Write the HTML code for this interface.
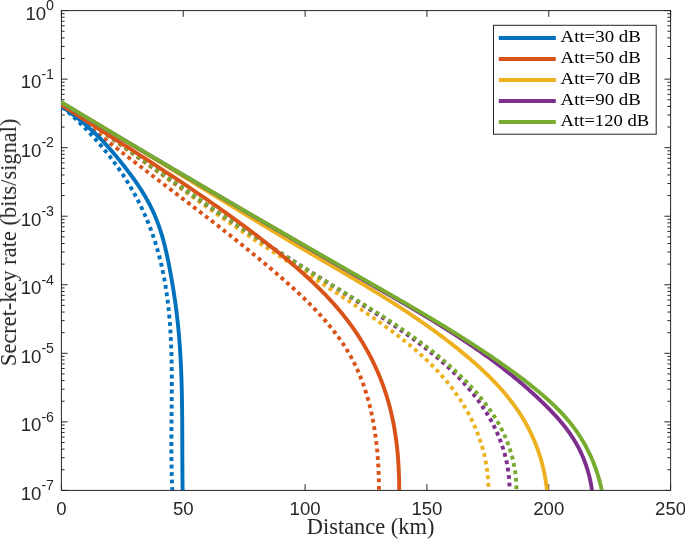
<!DOCTYPE html><html><head><meta charset="utf-8"><style>html,body{margin:0;padding:0;background:#fff;}svg{display:block;} text{will-change:transform;}</style></head><body>
<svg width="685" height="539" viewBox="0 0 685 539">
<rect width="685" height="539" fill="#fff"/>
<defs><clipPath id="c"><rect x="61.00" y="10.60" width="609.60" height="479.40"/></clipPath></defs>
<g stroke="#262626" stroke-width="1" fill="none">
<rect x="61.40" y="10.60" width="609.20" height="479.80"/>
<path d="M61.40,10.60h6.2M670.60,10.60h-6.2M61.40,79.14h6.2M670.60,79.14h-6.2M61.40,147.69h6.2M670.60,147.69h-6.2M61.40,216.23h6.2M670.60,216.23h-6.2M61.40,284.77h6.2M670.60,284.77h-6.2M61.40,353.31h6.2M670.60,353.31h-6.2M61.40,421.86h6.2M670.60,421.86h-6.2M61.40,490.40h6.2M670.60,490.40h-6.2M61.40,58.51h3.2M670.60,58.51h-3.2M61.40,46.44h3.2M670.60,46.44h-3.2M61.40,37.88h3.2M670.60,37.88h-3.2M61.40,31.23h3.2M670.60,31.23h-3.2M61.40,25.81h3.2M670.60,25.81h-3.2M61.40,21.22h3.2M670.60,21.22h-3.2M61.40,17.24h3.2M670.60,17.24h-3.2M61.40,13.74h3.2M670.60,13.74h-3.2M61.40,127.05h3.2M670.60,127.05h-3.2M61.40,114.98h3.2M670.60,114.98h-3.2M61.40,106.42h3.2M670.60,106.42h-3.2M61.40,99.78h3.2M670.60,99.78h-3.2M61.40,94.35h3.2M670.60,94.35h-3.2M61.40,89.76h3.2M670.60,89.76h-3.2M61.40,85.79h3.2M670.60,85.79h-3.2M61.40,82.28h3.2M670.60,82.28h-3.2M61.40,195.60h3.2M670.60,195.60h-3.2M61.40,183.53h3.2M670.60,183.53h-3.2M61.40,174.96h3.2M670.60,174.96h-3.2M61.40,168.32h3.2M670.60,168.32h-3.2M61.40,162.89h3.2M670.60,162.89h-3.2M61.40,158.30h3.2M670.60,158.30h-3.2M61.40,154.33h3.2M670.60,154.33h-3.2M61.40,150.82h3.2M670.60,150.82h-3.2M61.40,264.14h3.2M670.60,264.14h-3.2M61.40,252.07h3.2M670.60,252.07h-3.2M61.40,243.50h3.2M670.60,243.50h-3.2M61.40,236.86h3.2M670.60,236.86h-3.2M61.40,231.43h3.2M670.60,231.43h-3.2M61.40,226.85h3.2M670.60,226.85h-3.2M61.40,222.87h3.2M670.60,222.87h-3.2M61.40,219.36h3.2M670.60,219.36h-3.2M61.40,332.68h3.2M670.60,332.68h-3.2M61.40,320.61h3.2M670.60,320.61h-3.2M61.40,312.05h3.2M670.60,312.05h-3.2M61.40,305.40h3.2M670.60,305.40h-3.2M61.40,299.98h3.2M670.60,299.98h-3.2M61.40,295.39h3.2M670.60,295.39h-3.2M61.40,291.41h3.2M670.60,291.41h-3.2M61.40,287.91h3.2M670.60,287.91h-3.2M61.40,401.22h3.2M670.60,401.22h-3.2M61.40,389.15h3.2M670.60,389.15h-3.2M61.40,380.59h3.2M670.60,380.59h-3.2M61.40,373.95h3.2M670.60,373.95h-3.2M61.40,368.52h3.2M670.60,368.52h-3.2M61.40,363.93h3.2M670.60,363.93h-3.2M61.40,359.96h3.2M670.60,359.96h-3.2M61.40,356.45h3.2M670.60,356.45h-3.2M61.40,469.77h3.2M670.60,469.77h-3.2M61.40,457.70h3.2M670.60,457.70h-3.2M61.40,449.13h3.2M670.60,449.13h-3.2M61.40,442.49h3.2M670.60,442.49h-3.2M61.40,437.06h3.2M670.60,437.06h-3.2M61.40,432.47h3.2M670.60,432.47h-3.2M61.40,428.50h3.2M670.60,428.50h-3.2M61.40,424.99h3.2M670.60,424.99h-3.2M61.40,490.40v-6.2M61.40,10.60v6.2M183.24,490.40v-6.2M183.24,10.60v6.2M305.08,490.40v-6.2M305.08,10.60v6.2M426.92,490.40v-6.2M426.92,10.60v6.2M548.76,490.40v-6.2M548.76,10.60v6.2M670.60,490.40v-6.2M670.60,10.60v6.2"/>
</g>
<g clip-path="url(#c)" fill="none" stroke-width="3.90">
<path d="M61.04,105.92 L61.81,106.57 L62.60,107.24 L63.38,107.91 L64.16,108.58 L64.94,109.26 L65.72,109.94 L66.50,110.62 L67.27,111.30 L68.04,111.99 L68.82,112.68 L69.59,113.37 L70.35,114.06 L71.12,114.76 L71.89,115.46 L72.65,116.16 L73.41,116.86 L74.17,117.57 L74.93,118.28 L75.68,118.99 L76.43,119.70 L77.19,120.42 L77.94,121.14 L78.68,121.86 L79.43,122.58 L80.17,123.31 L80.91,124.04 L81.65,124.77 L82.39,125.50 L83.13,126.24 L83.86,126.97 L84.59,127.71 L85.32,128.46 L86.05,129.20 L86.77,129.95 L87.50,130.70 L88.22,131.46 L88.94,132.21 L89.65,132.97 L90.37,133.73 L91.08,134.49 L91.79,135.26 L92.49,136.02 L93.20,136.79 L93.90,137.56 L94.60,138.34 L95.30,139.12 L95.99,139.89 L96.69,140.68 L97.38,141.46 L98.06,142.25 L98.75,143.03 L99.43,143.83 L100.11,144.62 L100.79,145.41 L101.47,146.21 L102.14,147.01 L102.81,147.81 L103.48,148.62 L104.14,149.43 L104.81,150.23 L105.47,151.05 L106.12,151.86 L106.78,152.68 L107.43,153.49 L108.08,154.31 L108.73,155.14 L109.37,155.96 L110.01,156.79 L110.65,157.62 L111.29,158.45 L111.92,159.28 L112.55,160.12 L113.18,160.96 L113.80,161.80 L114.42,162.64 L115.04,163.49 L115.66,164.33 L116.27,165.18 L116.88,166.03 L117.49,166.89 L118.09,167.74 L118.69,168.60 L119.29,169.46 L119.88,170.32 L120.47,171.19 L121.06,172.06 L121.65,172.92 L122.23,173.79 L122.81,174.67 L123.39,175.54 L123.96,176.42 L124.53,177.30 L125.09,178.18 L125.66,179.06 L126.22,179.95 L126.77,180.84 L127.33,181.72 L127.88,182.62 L128.42,183.51 L128.97,184.40 L129.51,185.30 L130.05,186.20 L130.58,187.10 L131.11,188.00 L131.64,188.91 L132.16,189.82 L132.68,190.72 L133.19,191.64 L133.71,192.55 L134.22,193.46 L134.72,194.38 L135.22,195.30 L135.72,196.22 L136.22,197.14 L136.71,198.06 L137.20,198.99 L137.68,199.91 L138.16,200.84 L138.64,201.77 L139.11,202.71 L139.58,203.64 L140.05,204.58 L140.51,205.51 L140.97,206.45 L141.42,207.39 L141.87,208.34 L142.32,209.28 L142.76,210.23 L143.20,211.17 L143.64,212.12 L144.07,213.07 L144.50,214.03 L144.92,214.98 L145.34,215.94 L145.76,216.89 L146.17,217.85 L146.58,218.81 L146.98,219.77 L147.38,220.74 L147.78,221.70 L148.17,222.67 L148.56,223.63 L148.95,224.60 L149.33,225.57 L149.71,226.54 L150.08,227.52 L150.45,228.49 L150.82,229.46 L151.18,230.44 L151.54,231.42 L151.90,232.40 L152.25,233.38 L152.59,234.36 L152.94,235.34 L153.28,236.32 L153.61,237.31 L153.94,238.29 L154.27,239.28 L154.60,240.27 L154.92,241.26 L155.23,242.24 L155.54,243.24 L155.85,244.23 L156.16,245.22 L156.46,246.21 L156.75,247.21 L157.05,248.20 L157.34,249.20 L157.62,250.20 L157.91,251.19 L158.18,252.19 L158.46,253.19 L158.73,254.19 L159.00,255.20 L159.26,256.20 L159.52,257.20 L159.78,258.21 L160.03,259.21 L160.28,260.22 L160.53,261.22 L160.77,262.23 L161.01,263.24 L161.25,264.25 L161.48,265.26 L161.71,266.27 L161.93,267.28 L162.16,268.30 L162.38,269.31 L162.59,270.33 L162.81,271.34 L163.01,272.36 L163.22,273.37 L163.42,274.39 L163.63,275.41 L163.82,276.43 L164.02,277.45 L164.21,278.47 L164.40,279.49 L164.58,280.51 L164.76,281.53 L164.94,282.56 L165.12,283.58 L165.29,284.60 L165.46,285.63 L165.63,286.66 L165.79,287.68 L165.95,288.71 L166.11,289.74 L166.27,290.77 L166.42,291.79 L166.57,292.82 L166.72,293.85 L166.86,294.89 L167.01,295.92 L167.15,296.95 L167.28,297.98 L167.42,299.01 L167.55,300.05 L167.68,301.08 L167.81,302.12 L167.93,303.15 L168.05,304.19 L168.17,305.23 L168.29,306.26 L168.40,307.30 L168.52,308.34 L168.63,309.38 L168.73,310.42 L168.84,311.46 L168.94,312.50 L169.04,313.54 L169.14,314.58 L169.23,315.62 L169.33,316.66 L169.42,317.70 L169.51,318.75 L169.60,319.79 L169.68,320.83 L169.77,321.88 L169.85,322.92 L169.93,323.97 L170.00,325.01 L170.08,326.06 L170.15,327.10 L170.22,328.15 L170.29,329.20 L170.36,330.24 L170.42,331.29 L170.49,332.34 L170.55,333.39 L170.61,334.43 L170.67,335.48 L170.72,336.53 L170.78,337.58 L170.83,338.63 L170.88,339.68 L170.93,340.73 L170.98,341.78 L171.02,342.83 L171.07,343.88 L171.11,344.93 L171.15,345.98 L171.19,347.04 L171.23,348.09 L171.27,349.14 L171.30,350.19 L171.34,351.24 L171.37,352.30 L171.40,353.35 L171.43,354.40 L171.46,355.46 L171.48,356.51 L171.51,357.56 L171.53,358.62 L171.56,359.67 L171.58,360.72 L171.60,361.78 L171.62,362.83 L171.64,363.89 L171.66,364.94 L171.67,365.99 L171.69,367.05 L171.70,368.10 L171.71,369.16 L171.73,370.21 L171.74,371.27 L171.75,372.32 L171.76,373.38 L171.76,374.43 L171.77,375.49 L171.78,376.54 L171.78,377.60 L171.79,378.65 L171.79,379.71 L171.79,380.76 L171.80,381.82 L171.80,382.87 L171.80,383.93 L171.80,384.98 L171.80,386.04 L171.80,387.09 L171.80,388.15 L171.79,389.20 L171.79,390.25 L171.79,391.31 L171.78,392.36 L171.78,393.42 L171.77,394.47 L171.77,395.53 L171.76,396.58 L171.75,397.63 L171.75,398.69 L171.74,399.74 L171.73,400.79 L171.72,401.85 L171.72,402.90 L171.71,403.95 L171.70,405.00 L171.69,406.06 L171.68,407.11 L171.67,408.16 L171.66,409.21 L171.65,410.26 L171.64,411.32 L171.63,412.37 L171.62,413.42 L171.61,414.47 L171.60,415.52 L171.59,416.57 L171.58,417.62 L171.57,418.67 L171.56,419.72 L171.55,420.77 L171.54,421.81 L171.53,422.86 L171.52,423.91 L171.51,424.96 L171.50,426.01 L171.50,427.05 L171.49,428.10 L171.48,429.15 L171.47,430.19 L171.46,431.24 L171.46,432.28 L171.45,433.33 L171.44,434.37 L171.44,435.42 L171.43,436.46 L171.43,437.50 L171.42,438.55 L171.42,439.59 L171.41,440.63 L171.41,441.67 L171.41,442.71 L171.41,443.75 L171.40,444.79 L171.40,445.83 L171.40,446.87 L171.40,447.91 L171.41,448.95 L171.41,449.98 L171.41,451.02 L171.41,452.06 L171.42,453.09 L171.42,454.13 L171.43,455.16 L171.44,456.20 L171.45,457.23 L171.45,458.27 L171.46,459.30 L171.48,460.33 L171.49,461.36 L171.50,462.39 L171.51,463.42 L171.53,464.45 L171.55,465.48 L171.56,466.51 L171.58,467.54 L171.60,468.57 L171.62,469.59 L171.64,470.62 L171.67,471.64 L171.69,472.67 L171.72,473.69 L171.74,474.71 L171.77,475.74 L171.80,476.76 L171.83,477.78 L171.87,478.80 L171.90,479.82 L171.93,480.84 L171.97,481.86 L172.01,482.87 L172.05,483.89 L172.09,484.91 L172.13,485.92 L172.18,486.93 L172.22,487.95 L172.27,488.96 L172.32,489.97 L172.48,493.40" stroke="#0072BD" stroke-dasharray="3.8 3.7" stroke-dashoffset="-1.85"/>
<path d="M61.42,103.60 L62.31,104.35 L63.32,105.21 L64.33,106.06 L65.34,106.91 L66.35,107.76 L67.36,108.61 L68.37,109.45 L69.39,110.30 L70.40,111.15 L71.41,111.99 L72.43,112.83 L73.44,113.67 L74.46,114.51 L75.48,115.35 L76.49,116.19 L77.51,117.03 L78.53,117.86 L79.55,118.70 L80.57,119.53 L81.58,120.36 L82.61,121.19 L83.63,122.02 L84.65,122.85 L85.67,123.68 L86.69,124.51 L87.71,125.34 L88.74,126.16 L89.76,126.99 L90.78,127.81 L91.81,128.63 L92.83,129.46 L93.86,130.28 L94.89,131.10 L95.91,131.92 L96.94,132.74 L97.97,133.55 L98.99,134.37 L100.02,135.19 L101.05,136.00 L102.08,136.82 L103.11,137.63 L104.14,138.44 L105.17,139.26 L106.20,140.07 L107.23,140.88 L108.26,141.69 L109.29,142.50 L110.33,143.31 L111.36,144.11 L112.39,144.92 L113.42,145.73 L114.46,146.53 L115.49,147.34 L116.52,148.15 L117.56,148.95 L118.59,149.75 L119.63,150.56 L120.66,151.36 L121.70,152.16 L122.73,152.96 L123.77,153.76 L124.81,154.56 L125.84,155.36 L126.88,156.16 L127.92,156.96 L128.95,157.76 L129.99,158.56 L131.03,159.36 L132.07,160.15 L133.10,160.95 L134.14,161.75 L135.18,162.54 L136.22,163.34 L137.26,164.13 L138.30,164.93 L139.34,165.72 L140.38,166.52 L141.42,167.31 L142.45,168.11 L143.49,168.90 L144.53,169.69 L145.57,170.49 L146.61,171.28 L147.65,172.07 L148.69,172.86 L149.74,173.65 L150.78,174.45 L151.82,175.24 L152.86,176.03 L153.90,176.82 L154.94,177.61 L155.98,178.40 L157.02,179.19 L158.06,179.98 L159.10,180.77 L160.14,181.56 L161.18,182.36 L162.22,183.15 L163.27,183.94 L164.31,184.73 L165.35,185.52 L166.39,186.31 L167.43,187.10 L168.47,187.89 L169.51,188.68 L170.55,189.47 L171.59,190.26 L172.63,191.05 L173.68,191.84 L174.72,192.63 L175.76,193.42 L176.80,194.21 L177.84,195.00 L178.88,195.79 L179.92,196.58 L180.96,197.37 L182.00,198.17 L183.04,198.96 L184.08,199.75 L185.12,200.54 L186.16,201.33 L187.20,202.13 L188.24,202.92 L189.28,203.71 L190.31,204.51 L191.35,205.30 L192.39,206.09 L193.43,206.89 L194.47,207.68 L195.51,208.48 L196.54,209.27 L197.58,210.07 L198.62,210.86 L199.66,211.66 L200.69,212.46 L201.73,213.25 L202.77,214.05 L203.80,214.85 L204.84,215.65 L205.88,216.45 L206.91,217.24 L207.95,218.04 L208.98,218.84 L210.02,219.65 L211.05,220.45 L212.08,221.25 L213.12,222.05 L214.15,222.85 L215.18,223.66 L216.22,224.46 L217.25,225.27 L218.28,226.07 L219.31,226.88 L220.35,227.68 L221.38,228.49 L222.41,229.30 L223.44,230.11 L224.47,230.92 L225.50,231.72 L226.53,232.54 L227.56,233.35 L228.58,234.16 L229.61,234.97 L230.64,235.78 L231.67,236.60 L232.69,237.41 L233.72,238.23 L234.74,239.05 L235.77,239.86 L236.79,240.68 L237.82,241.50 L238.84,242.32 L239.87,243.14 L240.89,243.96 L241.91,244.79 L242.93,245.61 L243.96,246.43 L244.98,247.26 L246.00,248.08 L247.02,248.91 L248.04,249.74 L249.05,250.57 L250.07,251.40 L251.09,252.23 L252.11,253.06 L253.12,253.89 L254.14,254.73 L255.16,255.56 L256.17,256.40 L257.19,257.24 L258.20,258.08 L259.21,258.92 L260.22,259.76 L261.24,260.60 L262.25,261.44 L263.26,262.28 L264.27,263.13 L265.28,263.98 L266.29,264.82 L267.29,265.67 L268.30,266.52 L269.31,267.37 L270.31,268.23 L271.32,269.08 L272.32,269.93 L273.33,270.79 L274.33,271.65 L275.33,272.51 L276.33,273.37 L277.34,274.23 L278.34,275.09 L279.34,275.96 L280.33,276.82 L281.33,277.69 L282.33,278.56 L283.32,279.43 L284.32,280.30 L285.31,281.17 L286.30,282.05 L287.29,282.92 L288.28,283.80 L289.26,284.68 L290.25,285.57 L291.23,286.45 L292.21,287.34 L293.19,288.22 L294.16,289.11 L295.14,290.01 L296.11,290.90 L297.08,291.80 L298.04,292.70 L299.01,293.60 L299.97,294.50 L300.93,295.41 L301.88,296.31 L302.84,297.23 L303.79,298.14 L304.73,299.05 L305.68,299.97 L306.62,300.89 L307.56,301.82 L308.49,302.74 L309.42,303.67 L310.35,304.60 L311.27,305.54 L312.19,306.47 L313.11,307.41 L314.02,308.36 L314.92,309.30 L315.83,310.25 L316.73,311.20 L317.62,312.16 L318.51,313.12 L319.40,314.08 L320.28,315.04 L321.16,316.01 L322.03,316.98 L322.90,317.96 L323.76,318.93 L324.62,319.92 L325.47,320.90 L326.32,321.89 L327.16,322.88 L328.00,323.88 L328.83,324.88 L329.66,325.88 L330.48,326.89 L331.30,327.90 L332.11,328.91 L332.91,329.93 L333.71,330.95 L334.50,331.98 L335.29,333.01 L336.07,334.04 L336.84,335.08 L337.61,336.12 L338.37,337.17 L339.13,338.22 L339.88,339.27 L340.62,340.33 L341.35,341.40 L342.08,342.46 L342.80,343.54 L343.52,344.61 L344.23,345.70 L344.93,346.78 L345.62,347.87 L346.31,348.97 L346.98,350.07 L347.66,351.17 L348.32,352.28 L348.98,353.40 L349.62,354.51 L350.26,355.64 L350.90,356.77 L351.52,357.90 L352.14,359.04 L352.75,360.18 L353.35,361.33 L353.94,362.49 L354.52,363.65 L355.10,364.81 L355.67,365.98 L356.22,367.16 L356.77,368.34 L357.32,369.52 L357.85,370.71 L358.37,371.90 L358.89,373.10 L359.40,374.31 L359.90,375.51 L360.40,376.72 L360.88,377.94 L361.36,379.16 L361.83,380.39 L362.29,381.61 L362.75,382.85 L363.19,384.08 L363.63,385.32 L364.07,386.57 L364.49,387.81 L364.91,389.06 L365.32,390.32 L365.72,391.57 L366.12,392.83 L366.50,394.10 L366.88,395.36 L367.26,396.63 L367.63,397.91 L367.99,399.18 L368.34,400.46 L368.68,401.74 L369.02,403.02 L369.36,404.31 L369.68,405.59 L370.00,406.88 L370.31,408.17 L370.62,409.47 L370.92,410.76 L371.21,412.06 L371.50,413.36 L371.78,414.66 L372.05,415.96 L372.32,417.27 L372.58,418.57 L372.84,419.88 L373.09,421.19 L373.33,422.50 L373.57,423.81 L373.80,425.12 L374.02,426.43 L374.24,427.74 L374.46,429.06 L374.66,430.37 L374.87,431.69 L375.06,433.00 L375.25,434.32 L375.44,435.63 L375.62,436.95 L375.79,438.27 L375.96,439.58 L376.13,440.90 L376.29,442.21 L376.44,443.53 L376.59,444.85 L376.73,446.16 L376.87,447.47 L377.00,448.79 L377.13,450.10 L377.26,451.41 L377.37,452.73 L377.49,454.04 L377.60,455.35 L377.70,456.65 L377.80,457.96 L377.90,459.27 L377.99,460.57 L378.07,461.87 L378.16,463.17 L378.23,464.47 L378.31,465.77 L378.38,467.07 L378.44,468.36 L378.50,469.65 L378.56,470.94 L378.61,472.23 L378.66,473.52 L378.70,474.80 L378.74,476.08 L378.78,477.36 L378.81,478.63 L378.84,479.91 L378.87,481.18 L378.89,482.44 L378.91,483.71 L378.92,484.97 L378.93,486.22 L378.94,487.48 L378.95,488.73 L378.95,489.98 L378.96,493.40" stroke="#D95319" stroke-dasharray="3.8 3.7" stroke-dashoffset="-2.50"/>
<path d="M60.77,102.85 L61.80,103.56 L63.02,104.39 L64.24,105.24 L65.46,106.08 L66.68,106.92 L67.90,107.76 L69.11,108.61 L70.33,109.45 L71.55,110.30 L72.77,111.15 L73.99,112.00 L75.21,112.85 L76.42,113.70 L77.64,114.55 L78.86,115.40 L80.07,116.25 L81.29,117.10 L82.51,117.96 L83.72,118.81 L84.94,119.67 L86.15,120.53 L87.37,121.38 L88.58,122.24 L89.80,123.10 L91.01,123.96 L92.23,124.82 L93.44,125.68 L94.65,126.54 L95.87,127.40 L97.08,128.27 L98.29,129.13 L99.51,129.99 L100.72,130.86 L101.93,131.72 L103.15,132.59 L104.36,133.45 L105.57,134.32 L106.78,135.19 L108.00,136.05 L109.21,136.92 L110.42,137.79 L111.63,138.66 L112.84,139.53 L114.05,140.40 L115.27,141.27 L116.48,142.14 L117.69,143.01 L118.90,143.88 L120.11,144.75 L121.32,145.62 L122.53,146.49 L123.74,147.37 L124.96,148.24 L126.17,149.11 L127.38,149.99 L128.59,150.86 L129.80,151.73 L131.01,152.61 L132.22,153.48 L133.43,154.36 L134.64,155.23 L135.85,156.11 L137.06,156.98 L138.27,157.85 L139.48,158.73 L140.70,159.61 L141.91,160.48 L143.12,161.36 L144.33,162.23 L145.54,163.11 L146.75,163.98 L147.96,164.86 L149.17,165.73 L150.38,166.61 L151.59,167.48 L152.81,168.36 L154.02,169.23 L155.23,170.11 L156.44,170.99 L157.65,171.86 L158.86,172.74 L160.08,173.61 L161.29,174.48 L162.50,175.36 L163.71,176.23 L164.93,177.11 L166.14,177.98 L167.35,178.86 L168.56,179.73 L169.78,180.60 L170.99,181.48 L172.20,182.35 L173.42,183.22 L174.63,184.09 L175.85,184.96 L177.06,185.84 L178.27,186.71 L179.49,187.58 L180.70,188.45 L181.92,189.32 L183.13,190.19 L184.35,191.06 L185.57,191.93 L186.78,192.80 L188.00,193.66 L189.21,194.53 L190.43,195.40 L191.65,196.26 L192.87,197.13 L194.08,198.00 L195.30,198.86 L196.52,199.73 L197.74,200.59 L198.96,201.45 L200.18,202.31 L201.40,203.18 L202.62,204.04 L203.84,204.90 L205.06,205.76 L206.28,206.62 L207.50,207.48 L208.72,208.33 L209.94,209.19 L211.16,210.05 L212.38,210.90 L213.61,211.76 L214.83,212.61 L216.05,213.47 L217.28,214.32 L218.50,215.17 L219.73,216.02 L220.95,216.87 L222.18,217.72 L223.40,218.57 L224.63,219.42 L225.86,220.27 L227.09,221.11 L228.31,221.96 L229.54,222.80 L230.77,223.64 L232.00,224.49 L233.23,225.33 L234.46,226.17 L235.69,227.01 L236.92,227.84 L238.15,228.68 L239.38,229.52 L240.62,230.35 L241.85,231.18 L243.08,232.02 L244.32,232.85 L245.55,233.68 L246.79,234.51 L248.02,235.34 L249.26,236.16 L250.49,236.99 L251.73,237.81 L252.97,238.64 L254.21,239.46 L255.45,240.28 L256.68,241.10 L257.92,241.92 L259.16,242.74 L260.40,243.56 L261.65,244.37 L262.89,245.19 L264.13,246.01 L265.37,246.82 L266.61,247.63 L267.86,248.45 L269.10,249.26 L270.34,250.07 L271.59,250.88 L272.83,251.69 L274.07,252.50 L275.32,253.31 L276.56,254.12 L277.81,254.93 L279.05,255.73 L280.30,256.54 L281.55,257.35 L282.79,258.16 L284.04,258.96 L285.29,259.77 L286.53,260.57 L287.78,261.38 L289.03,262.18 L290.27,262.99 L291.52,263.79 L292.77,264.60 L294.02,265.40 L295.27,266.21 L296.51,267.01 L297.76,267.82 L299.01,268.62 L300.26,269.42 L301.51,270.23 L302.76,271.03 L304.00,271.84 L305.25,272.64 L306.50,273.45 L307.75,274.25 L309.00,275.06 L310.25,275.86 L311.50,276.67 L312.74,277.48 L313.99,278.28 L315.24,279.09 L316.49,279.90 L317.74,280.71 L318.99,281.51 L320.23,282.32 L321.48,283.13 L322.73,283.94 L323.98,284.75 L325.23,285.56 L326.47,286.38 L327.72,287.19 L328.97,288.00 L330.21,288.82 L331.46,289.63 L332.71,290.45 L333.95,291.26 L335.20,292.08 L336.44,292.90 L337.69,293.72 L338.94,294.54 L340.18,295.36 L341.42,296.18 L342.67,297.00 L343.91,297.83 L345.16,298.65 L346.40,299.48 L347.64,300.31 L348.89,301.14 L350.13,301.97 L351.37,302.80 L352.61,303.63 L353.85,304.46 L355.09,305.30 L356.33,306.13 L357.57,306.97 L358.81,307.81 L360.05,308.65 L361.29,309.49 L362.53,310.34 L363.76,311.18 L365.00,312.03 L366.24,312.88 L367.47,313.73 L368.71,314.58 L369.94,315.43 L371.18,316.29 L372.41,317.14 L373.64,318.00 L374.87,318.86 L376.10,319.73 L377.33,320.59 L378.56,321.46 L379.78,322.33 L381.01,323.20 L382.23,324.08 L383.45,324.95 L384.67,325.83 L385.88,326.72 L387.10,327.60 L388.31,328.49 L389.52,329.38 L390.73,330.27 L391.93,331.17 L393.13,332.07 L394.33,332.97 L395.53,333.88 L396.72,334.79 L397.91,335.70 L399.10,336.61 L400.28,337.53 L401.46,338.46 L402.64,339.38 L403.82,340.31 L404.99,341.25 L406.15,342.19 L407.31,343.13 L408.47,344.07 L409.63,345.02 L410.78,345.98 L411.92,346.93 L413.06,347.90 L414.20,348.86 L415.33,349.83 L416.46,350.81 L417.58,351.79 L418.70,352.77 L419.81,353.76 L420.92,354.76 L422.02,355.76 L423.12,356.76 L424.21,357.77 L425.30,358.78 L426.38,359.80 L427.46,360.82 L428.53,361.85 L429.59,362.89 L430.65,363.93 L431.70,364.97 L432.74,366.02 L433.78,367.08 L434.81,368.14 L435.84,369.21 L436.86,370.28 L437.87,371.36 L438.88,372.45 L439.87,373.54 L440.86,374.63 L441.85,375.74 L442.83,376.85 L443.80,377.96 L444.76,379.08 L445.71,380.21 L446.66,381.35 L447.60,382.49 L448.53,383.64 L449.45,384.79 L450.37,385.95 L451.27,387.12 L452.17,388.30 L453.06,389.48 L453.95,390.67 L454.82,391.86 L455.68,393.07 L456.54,394.27 L457.39,395.49 L458.22,396.71 L459.05,397.94 L459.87,399.18 L460.68,400.42 L461.48,401.66 L462.27,402.92 L463.06,404.18 L463.83,405.45 L464.59,406.72 L465.34,408.00 L466.08,409.28 L466.82,410.57 L467.54,411.87 L468.25,413.17 L468.95,414.48 L469.64,415.80 L470.32,417.12 L470.99,418.44 L471.65,419.77 L472.29,421.11 L472.93,422.45 L473.55,423.80 L474.17,425.15 L474.77,426.51 L475.36,427.88 L475.94,429.25 L476.51,430.62 L477.06,432.00 L477.61,433.39 L478.14,434.78 L478.66,436.17 L479.17,437.57 L479.66,438.98 L480.14,440.39 L480.62,441.80 L481.07,443.22 L481.52,444.65 L481.95,446.07 L482.37,447.51 L482.78,448.95 L483.17,450.39 L483.55,451.84 L483.92,453.29 L484.27,454.74 L484.61,456.20 L484.94,457.67 L485.25,459.14 L485.55,460.61 L485.83,462.09 L486.10,463.57 L486.36,465.05 L486.60,466.54 L486.83,468.03 L487.04,469.53 L487.24,471.03 L487.43,472.54 L487.59,474.04 L487.75,475.55 L487.89,477.07 L488.01,478.59 L488.12,480.11 L488.22,481.64 L488.30,483.17 L488.36,484.70 L488.41,486.23 L488.44,487.77 L488.45,489.31 L488.46,490.86 L488.47,493.40" stroke="#EDB120" stroke-dasharray="3.8 3.7" stroke-dashoffset="-3.40"/>
<path d="M60.97,102.45 L62.01,103.16 L63.25,104.02 L64.50,104.88 L65.74,105.74 L66.99,106.61 L68.23,107.47 L69.48,108.34 L70.72,109.20 L71.97,110.07 L73.21,110.93 L74.46,111.80 L75.70,112.67 L76.95,113.54 L78.19,114.41 L79.44,115.28 L80.68,116.16 L81.93,117.03 L83.17,117.90 L84.42,118.78 L85.66,119.65 L86.91,120.53 L88.16,121.41 L89.40,122.28 L90.65,123.16 L91.89,124.04 L93.14,124.92 L94.39,125.80 L95.63,126.68 L96.88,127.56 L98.12,128.44 L99.37,129.32 L100.62,130.21 L101.86,131.09 L103.11,131.97 L104.36,132.86 L105.60,133.74 L106.85,134.63 L108.10,135.51 L109.34,136.40 L110.59,137.28 L111.84,138.17 L113.09,139.06 L114.33,139.94 L115.58,140.83 L116.83,141.72 L118.08,142.61 L119.33,143.49 L120.58,144.38 L121.82,145.27 L123.07,146.16 L124.32,147.05 L125.57,147.94 L126.82,148.83 L128.07,149.72 L129.32,150.61 L130.57,151.50 L131.82,152.39 L133.07,153.27 L134.32,154.16 L135.57,155.05 L136.82,155.94 L138.07,156.83 L139.32,157.72 L140.57,158.61 L141.82,159.50 L143.08,160.39 L144.33,161.28 L145.58,162.17 L146.83,163.06 L148.09,163.95 L149.34,164.83 L150.59,165.72 L151.84,166.61 L153.10,167.50 L154.35,168.39 L155.61,169.27 L156.86,170.16 L158.11,171.05 L159.37,171.93 L160.62,172.82 L161.88,173.70 L163.13,174.59 L164.39,175.47 L165.65,176.36 L166.90,177.24 L168.16,178.13 L169.42,179.01 L170.67,179.89 L171.93,180.77 L173.19,181.65 L174.45,182.53 L175.70,183.41 L176.96,184.29 L178.22,185.17 L179.48,186.05 L180.74,186.93 L182.00,187.81 L183.26,188.68 L184.52,189.56 L185.78,190.43 L187.04,191.31 L188.30,192.18 L189.57,193.05 L190.83,193.93 L192.09,194.80 L193.35,195.67 L194.62,196.54 L195.88,197.41 L197.14,198.27 L198.41,199.14 L199.67,200.01 L200.94,200.87 L202.20,201.73 L203.47,202.60 L204.73,203.46 L206.00,204.32 L207.26,205.18 L208.53,206.04 L209.80,206.90 L211.07,207.75 L212.33,208.61 L213.60,209.46 L214.87,210.32 L216.14,211.17 L217.41,212.02 L218.68,212.87 L219.95,213.72 L221.22,214.57 L222.49,215.41 L223.77,216.26 L225.04,217.10 L226.31,217.95 L227.58,218.79 L228.86,219.63 L230.13,220.47 L231.40,221.31 L232.68,222.14 L233.95,222.98 L235.23,223.81 L236.50,224.65 L237.78,225.48 L239.06,226.31 L240.33,227.15 L241.61,227.98 L242.89,228.81 L244.16,229.64 L245.44,230.46 L246.72,231.29 L248.00,232.12 L249.28,232.94 L250.56,233.77 L251.84,234.59 L253.12,235.41 L254.40,236.24 L255.68,237.06 L256.96,237.88 L258.24,238.70 L259.52,239.52 L260.80,240.34 L262.08,241.16 L263.37,241.98 L264.65,242.79 L265.93,243.61 L267.22,244.43 L268.50,245.24 L269.78,246.06 L271.07,246.87 L272.35,247.69 L273.64,248.50 L274.92,249.32 L276.20,250.13 L277.49,250.94 L278.78,251.76 L280.06,252.57 L281.35,253.38 L282.63,254.19 L283.92,255.00 L285.21,255.82 L286.49,256.63 L287.78,257.44 L289.07,258.25 L290.35,259.06 L291.64,259.87 L292.93,260.68 L294.22,261.49 L295.51,262.30 L296.79,263.11 L298.08,263.92 L299.37,264.73 L300.66,265.54 L301.95,266.35 L303.24,267.16 L304.53,267.97 L305.82,268.78 L307.11,269.59 L308.40,270.41 L309.69,271.22 L310.98,272.03 L312.27,272.84 L313.56,273.65 L314.85,274.46 L316.14,275.27 L317.43,276.08 L318.72,276.90 L320.01,277.71 L321.30,278.52 L322.60,279.34 L323.89,280.15 L325.18,280.96 L326.47,281.78 L327.76,282.59 L329.05,283.41 L330.35,284.22 L331.64,285.04 L332.93,285.86 L334.22,286.68 L335.51,287.49 L336.81,288.31 L338.10,289.13 L339.39,289.95 L340.68,290.77 L341.98,291.59 L343.27,292.41 L344.56,293.24 L345.85,294.06 L347.15,294.88 L348.44,295.71 L349.73,296.53 L351.03,297.36 L352.32,298.18 L353.61,299.01 L354.90,299.84 L356.20,300.67 L357.49,301.50 L358.78,302.33 L360.08,303.16 L361.37,304.00 L362.66,304.83 L363.95,305.66 L365.25,306.50 L366.54,307.34 L367.83,308.17 L369.13,309.01 L370.42,309.85 L371.71,310.69 L373.00,311.54 L374.30,312.38 L375.59,313.22 L376.88,314.07 L378.17,314.92 L379.47,315.77 L380.76,316.62 L382.05,317.47 L383.34,318.32 L384.63,319.17 L385.92,320.03 L387.21,320.89 L388.50,321.75 L389.78,322.61 L391.07,323.47 L392.35,324.33 L393.64,325.20 L394.92,326.07 L396.20,326.94 L397.48,327.82 L398.75,328.69 L400.03,329.57 L401.30,330.45 L402.57,331.33 L403.84,332.22 L405.11,333.11 L406.37,334.00 L407.63,334.89 L408.89,335.79 L410.15,336.69 L411.40,337.59 L412.65,338.50 L413.90,339.40 L415.14,340.32 L416.38,341.23 L417.62,342.15 L418.86,343.07 L420.09,344.00 L421.32,344.92 L422.54,345.86 L423.76,346.79 L424.97,347.73 L426.19,348.68 L427.39,349.62 L428.60,350.57 L429.80,351.53 L430.99,352.49 L432.18,353.45 L433.37,354.42 L434.55,355.39 L435.72,356.37 L436.90,357.35 L438.06,358.33 L439.22,359.32 L440.38,360.31 L441.53,361.31 L442.67,362.31 L443.81,363.32 L444.95,364.33 L446.07,365.35 L447.20,366.37 L448.31,367.40 L449.42,368.43 L450.53,369.47 L451.62,370.51 L452.71,371.56 L453.80,372.62 L454.88,373.68 L455.95,374.74 L457.01,375.81 L458.07,376.89 L459.12,377.97 L460.16,379.06 L461.20,380.15 L462.23,381.25 L463.25,382.35 L464.27,383.46 L465.27,384.58 L466.27,385.70 L467.26,386.83 L468.25,387.97 L469.22,389.11 L470.19,390.26 L471.15,391.41 L472.10,392.58 L473.04,393.74 L473.97,394.92 L474.90,396.10 L475.81,397.29 L476.72,398.49 L477.62,399.69 L478.51,400.90 L479.39,402.11 L480.26,403.34 L481.12,404.57 L481.97,405.81 L482.82,407.05 L483.65,408.31 L484.47,409.57 L485.28,410.83 L486.09,412.11 L486.88,413.39 L487.66,414.68 L488.43,415.98 L489.19,417.28 L489.94,418.59 L490.68,419.91 L491.41,421.24 L492.12,422.57 L492.83,423.91 L493.52,425.26 L494.20,426.61 L494.86,427.97 L495.52,429.34 L496.16,430.72 L496.79,432.10 L497.41,433.49 L498.01,434.89 L498.60,436.29 L499.18,437.70 L499.74,439.12 L500.29,440.54 L500.82,441.97 L501.35,443.41 L501.85,444.85 L502.34,446.30 L502.82,447.76 L503.29,449.23 L503.73,450.70 L504.17,452.17 L504.58,453.66 L504.99,455.15 L505.37,456.65 L505.74,458.15 L505.92,458.91 L506.10,459.66 L506.27,460.42 L506.44,461.18 L506.60,461.94 L506.76,462.70 L506.92,463.47 L507.07,464.23 L507.21,465.00 L507.36,465.77 L507.49,466.54 L507.63,467.31 L507.76,468.09 L507.88,468.86 L508.00,469.64 L508.12,470.42 L508.23,471.20 L508.34,471.98 L508.45,472.76 L508.55,473.55 L508.64,474.33 L508.73,475.12 L508.82,475.91 L508.90,476.70 L508.98,477.50 L509.05,478.29 L509.12,479.09 L509.18,479.88 L509.24,480.68 L509.29,481.48 L509.34,482.28 L509.39,483.09 L509.43,483.89 L509.46,484.70 L509.49,485.51 L509.52,486.32 L509.54,487.13 L509.56,487.94 L509.57,488.76 L509.58,489.57 L509.58,490.39 L509.58,491.21 L509.59,493.40" stroke="#7E2F8E" stroke-dasharray="3.8 3.7" stroke-dashoffset="-3.30"/>
<path d="M60.73,102.59 L61.78,103.30 L63.05,104.15 L64.32,105.01 L65.59,105.86 L66.86,106.72 L68.13,107.58 L69.40,108.44 L70.67,109.30 L71.94,110.16 L73.21,111.02 L74.48,111.89 L75.74,112.75 L77.01,113.62 L78.28,114.48 L79.55,115.35 L80.81,116.22 L82.08,117.09 L83.34,117.96 L84.61,118.83 L85.88,119.71 L87.14,120.58 L88.41,121.45 L89.67,122.33 L90.93,123.21 L92.20,124.08 L93.46,124.96 L94.73,125.84 L95.99,126.72 L97.25,127.60 L98.51,128.48 L99.78,129.36 L101.04,130.24 L102.30,131.12 L103.56,132.00 L104.83,132.89 L106.09,133.77 L107.35,134.66 L108.61,135.54 L109.87,136.43 L111.13,137.32 L112.39,138.20 L113.65,139.09 L114.91,139.98 L116.17,140.87 L117.43,141.75 L118.69,142.64 L119.96,143.53 L121.22,144.42 L122.48,145.31 L123.73,146.20 L124.99,147.09 L126.25,147.98 L127.51,148.88 L128.77,149.77 L130.03,150.66 L131.29,151.55 L132.55,152.44 L133.81,153.33 L135.07,154.23 L136.33,155.12 L137.59,156.01 L138.85,156.90 L140.11,157.80 L141.37,158.69 L142.63,159.58 L143.89,160.48 L145.15,161.37 L146.41,162.26 L147.67,163.16 L148.93,164.05 L150.19,164.94 L151.45,165.83 L152.71,166.73 L153.97,167.62 L155.23,168.51 L156.49,169.40 L157.75,170.30 L159.01,171.19 L160.27,172.08 L161.53,172.97 L162.79,173.86 L164.05,174.75 L165.31,175.64 L166.57,176.53 L167.84,177.42 L169.10,178.31 L170.36,179.20 L171.62,180.09 L172.88,180.98 L174.15,181.86 L175.41,182.75 L176.67,183.64 L177.94,184.53 L179.20,185.41 L180.46,186.30 L181.73,187.18 L182.99,188.07 L184.25,188.95 L185.52,189.83 L186.78,190.71 L188.05,191.60 L189.32,192.48 L190.58,193.36 L191.85,194.24 L193.11,195.12 L194.38,196.00 L195.65,196.87 L196.92,197.75 L198.18,198.63 L199.45,199.50 L200.72,200.38 L201.99,201.25 L203.26,202.12 L204.53,202.99 L205.80,203.86 L207.07,204.73 L208.34,205.60 L209.61,206.47 L210.88,207.34 L212.15,208.21 L213.43,209.07 L214.70,209.93 L215.97,210.80 L217.25,211.66 L218.52,212.52 L219.80,213.38 L221.07,214.24 L222.35,215.10 L223.62,215.96 L224.90,216.81 L226.17,217.67 L227.45,218.52 L228.73,219.38 L230.01,220.23 L231.29,221.08 L232.57,221.93 L233.84,222.78 L235.12,223.63 L236.41,224.48 L237.69,225.33 L238.97,226.18 L240.25,227.02 L241.53,227.87 L242.81,228.71 L244.10,229.55 L245.38,230.40 L246.66,231.24 L247.95,232.08 L249.23,232.92 L250.52,233.76 L251.80,234.60 L253.09,235.44 L254.38,236.27 L255.66,237.11 L256.95,237.95 L258.24,238.78 L259.53,239.62 L260.82,240.45 L262.11,241.28 L263.40,242.11 L264.69,242.94 L265.98,243.78 L267.27,244.60 L268.56,245.43 L269.86,246.26 L271.15,247.09 L272.44,247.92 L273.74,248.74 L275.03,249.57 L276.32,250.40 L277.62,251.22 L278.92,252.04 L280.21,252.87 L281.51,253.69 L282.81,254.51 L284.10,255.33 L285.40,256.15 L286.70,256.97 L288.00,257.79 L289.30,258.61 L290.60,259.43 L291.90,260.25 L293.20,261.07 L294.51,261.88 L295.81,262.70 L297.11,263.52 L298.41,264.33 L299.72,265.15 L301.02,265.96 L302.33,266.77 L303.63,267.59 L304.94,268.40 L306.25,269.21 L307.55,270.02 L308.86,270.84 L310.17,271.65 L311.48,272.46 L312.79,273.27 L314.10,274.08 L315.41,274.89 L316.72,275.69 L318.03,276.50 L319.34,277.31 L320.65,278.12 L321.96,278.92 L323.28,279.73 L324.59,280.54 L325.91,281.34 L327.22,282.15 L328.54,282.95 L329.85,283.76 L331.17,284.56 L332.49,285.37 L333.80,286.17 L335.12,286.97 L336.44,287.78 L337.76,288.58 L339.08,289.38 L340.40,290.19 L341.72,290.99 L343.04,291.79 L344.36,292.60 L345.68,293.40 L347.00,294.20 L348.32,295.01 L349.64,295.81 L350.96,296.62 L352.28,297.42 L353.60,298.23 L354.92,299.04 L356.24,299.84 L357.55,300.65 L358.87,301.46 L360.19,302.27 L361.51,303.08 L362.82,303.89 L364.14,304.71 L365.45,305.52 L366.77,306.33 L368.08,307.15 L369.39,307.97 L370.70,308.79 L372.01,309.61 L373.32,310.43 L374.63,311.25 L375.94,312.08 L377.25,312.90 L378.55,313.73 L379.85,314.56 L381.16,315.39 L382.46,316.23 L383.76,317.06 L385.06,317.90 L386.35,318.74 L387.65,319.58 L388.94,320.42 L390.23,321.27 L391.52,322.12 L392.81,322.97 L394.10,323.82 L395.38,324.67 L396.67,325.53 L397.95,326.39 L399.22,327.25 L400.50,328.12 L401.78,328.99 L403.05,329.86 L404.32,330.73 L405.59,331.61 L406.85,332.49 L408.12,333.37 L409.38,334.25 L410.63,335.14 L411.89,336.03 L413.14,336.93 L414.39,337.83 L415.64,338.73 L416.89,339.63 L418.13,340.54 L419.37,341.46 L420.61,342.37 L421.84,343.29 L423.07,344.21 L424.30,345.14 L425.52,346.07 L426.75,347.01 L427.96,347.94 L429.18,348.89 L430.39,349.83 L431.60,350.78 L432.80,351.74 L434.01,352.70 L435.20,353.66 L436.40,354.63 L437.59,355.60 L438.78,356.57 L439.96,357.56 L441.14,358.54 L442.32,359.53 L443.49,360.53 L444.66,361.53 L445.82,362.53 L446.98,363.54 L448.14,364.55 L449.29,365.57 L450.44,366.60 L451.59,367.63 L452.73,368.66 L453.86,369.70 L454.99,370.74 L456.12,371.79 L457.24,372.85 L458.36,373.91 L459.47,374.98 L460.58,376.05 L461.69,377.13 L462.79,378.21 L463.88,379.30 L464.97,380.39 L466.05,381.49 L467.13,382.60 L468.20,383.71 L469.27,384.83 L470.32,385.95 L471.38,387.08 L472.42,388.22 L473.46,389.36 L474.49,390.51 L475.51,391.66 L476.53,392.82 L477.54,393.99 L478.54,395.16 L479.53,396.34 L480.51,397.53 L481.48,398.72 L482.45,399.92 L483.41,401.13 L484.35,402.34 L485.29,403.56 L486.21,404.78 L487.13,406.01 L488.04,407.25 L488.93,408.49 L489.82,409.75 L490.69,411.00 L491.55,412.27 L492.40,413.54 L493.24,414.82 L494.07,416.11 L494.89,417.40 L495.69,418.70 L496.48,420.01 L497.26,421.32 L498.02,422.65 L498.78,423.97 L499.51,425.31 L500.24,426.65 L500.95,428.01 L501.65,429.36 L502.33,430.73 L503.00,432.10 L503.65,433.48 L504.29,434.87 L504.92,436.27 L505.53,437.67 L506.12,439.08 L506.70,440.50 L507.26,441.92 L507.81,443.35 L508.35,444.79 L508.86,446.23 L509.36,447.68 L509.85,449.14 L510.32,450.60 L510.77,452.08 L511.21,453.55 L511.63,455.04 L512.04,456.53 L512.42,458.03 L512.79,459.53 L512.97,460.28 L513.15,461.04 L513.32,461.80 L513.48,462.56 L513.64,463.32 L513.80,464.08 L513.95,464.84 L514.10,465.61 L514.25,466.38 L514.39,467.14 L514.52,467.91 L514.65,468.69 L514.78,469.46 L514.90,470.23 L515.02,471.01 L515.13,471.79 L515.24,472.57 L515.34,473.35 L515.44,474.13 L515.54,474.91 L515.63,475.70 L515.71,476.48 L515.79,477.27 L515.87,478.06 L515.94,478.85 L516.01,479.64 L516.07,480.44 L516.13,481.23 L516.18,482.03 L516.23,482.82 L516.27,483.62 L516.31,484.42 L516.34,485.23 L516.37,486.03 L516.40,486.83 L516.42,487.64 L516.43,488.45 L516.44,489.26 L516.45,490.07 L516.45,490.88 L516.47,493.40" stroke="#77AC30" stroke-dasharray="3.8 3.7" stroke-dashoffset="-3.30"/>
<path d="M60.76,105.85 L61.62,106.43 L62.50,107.03 L63.38,107.63 L64.26,108.23 L65.13,108.84 L66.00,109.45 L66.87,110.07 L67.74,110.69 L68.60,111.31 L69.46,111.94 L70.31,112.57 L71.17,113.20 L72.02,113.84 L72.87,114.48 L73.71,115.12 L74.56,115.77 L75.39,116.42 L76.23,117.07 L77.07,117.73 L77.90,118.39 L78.72,119.05 L79.55,119.72 L80.37,120.39 L81.19,121.07 L82.00,121.74 L82.82,122.42 L83.63,123.11 L84.43,123.80 L85.24,124.49 L86.04,125.18 L86.84,125.88 L87.63,126.58 L88.42,127.28 L89.21,127.99 L90.00,128.70 L90.78,129.41 L91.56,130.13 L92.34,130.85 L93.11,131.57 L93.88,132.30 L94.65,133.03 L95.41,133.76 L96.17,134.49 L96.93,135.23 L97.68,135.98 L98.43,136.72 L99.18,137.47 L99.92,138.22 L100.67,138.98 L101.40,139.73 L102.14,140.49 L102.87,141.26 L103.60,142.02 L104.32,142.79 L105.05,143.57 L105.76,144.34 L106.48,145.12 L107.19,145.90 L107.90,146.69 L108.61,147.48 L109.31,148.27 L110.01,149.06 L110.71,149.85 L111.40,150.65 L112.10,151.45 L112.79,152.25 L113.47,153.06 L114.16,153.87 L114.84,154.67 L115.52,155.49 L116.20,156.30 L116.87,157.12 L117.54,157.93 L118.21,158.75 L118.88,159.57 L119.55,160.40 L120.21,161.22 L120.87,162.05 L121.53,162.87 L122.19,163.70 L122.84,164.54 L123.50,165.37 L124.15,166.20 L124.80,167.04 L125.45,167.87 L126.10,168.71 L126.74,169.55 L127.39,170.39 L128.03,171.23 L128.67,172.07 L129.30,172.92 L129.94,173.76 L130.57,174.61 L131.20,175.46 L131.83,176.32 L132.45,177.17 L133.07,178.03 L133.69,178.88 L134.31,179.74 L134.92,180.61 L135.53,181.47 L136.13,182.34 L136.73,183.21 L137.33,184.08 L137.92,184.96 L138.51,185.83 L139.10,186.72 L139.68,187.60 L140.26,188.49 L140.83,189.38 L141.40,190.27 L141.97,191.16 L142.53,192.06 L143.08,192.97 L143.63,193.87 L144.18,194.78 L144.72,195.69 L145.25,196.60 L145.78,197.52 L146.31,198.44 L146.83,199.36 L147.35,200.29 L147.86,201.22 L148.36,202.15 L148.86,203.08 L149.35,204.02 L149.84,204.96 L150.32,205.90 L150.80,206.85 L151.27,207.79 L151.73,208.75 L152.19,209.70 L152.64,210.66 L153.09,211.61 L153.53,212.58 L153.96,213.54 L154.39,214.51 L154.81,215.48 L155.23,216.45 L155.63,217.42 L156.04,218.40 L156.43,219.38 L156.82,220.36 L157.20,221.35 L157.57,222.34 L157.94,223.33 L158.31,224.32 L158.66,225.31 L159.01,226.31 L159.36,227.31 L159.70,228.31 L160.03,229.31 L160.36,230.31 L160.69,231.32 L161.00,232.33 L161.32,233.34 L161.62,234.35 L161.93,235.36 L162.22,236.38 L162.52,237.40 L162.81,238.42 L163.09,239.44 L163.37,240.46 L163.65,241.48 L163.92,242.51 L164.18,243.53 L164.45,244.56 L164.71,245.59 L164.96,246.62 L165.21,247.65 L165.46,248.68 L165.70,249.72 L165.95,250.75 L166.18,251.79 L166.42,252.82 L166.65,253.86 L166.88,254.90 L167.10,255.94 L167.33,256.98 L167.55,258.02 L167.77,259.06 L167.98,260.10 L168.19,261.14 L168.40,262.18 L168.61,263.23 L168.82,264.27 L169.03,265.32 L169.23,266.36 L169.43,267.40 L169.63,268.45 L169.83,269.49 L170.02,270.54 L170.22,271.58 L170.41,272.63 L170.60,273.67 L170.80,274.72 L170.98,275.77 L171.17,276.81 L171.36,277.86 L171.54,278.90 L171.73,279.95 L171.91,281.00 L172.09,282.04 L172.26,283.09 L172.44,284.14 L172.62,285.19 L172.79,286.23 L172.96,287.28 L173.13,288.33 L173.30,289.38 L173.47,290.43 L173.63,291.47 L173.80,292.52 L173.96,293.57 L174.12,294.62 L174.28,295.67 L174.43,296.72 L174.59,297.77 L174.74,298.82 L174.89,299.87 L175.04,300.92 L175.19,301.97 L175.34,303.02 L175.48,304.07 L175.63,305.12 L175.77,306.17 L175.91,307.22 L176.05,308.27 L176.18,309.32 L176.32,310.37 L176.45,311.42 L176.58,312.48 L176.71,313.53 L176.84,314.58 L176.96,315.63 L177.08,316.68 L177.21,317.74 L177.33,318.79 L177.44,319.84 L177.56,320.90 L177.68,321.95 L177.79,323.00 L177.90,324.06 L178.01,325.11 L178.11,326.16 L178.22,327.22 L178.32,328.27 L178.42,329.33 L178.52,330.38 L178.62,331.43 L178.72,332.49 L178.81,333.54 L178.90,334.60 L179.00,335.65 L179.09,336.71 L179.17,337.77 L179.26,338.82 L179.34,339.88 L179.43,340.93 L179.51,341.99 L179.59,343.05 L179.66,344.10 L179.74,345.16 L179.82,346.22 L179.89,347.27 L179.96,348.33 L180.03,349.39 L180.10,350.44 L180.17,351.50 L180.23,352.56 L180.30,353.62 L180.36,354.67 L180.42,355.73 L180.48,356.79 L180.54,357.85 L180.60,358.91 L180.66,359.96 L180.71,361.02 L180.77,362.08 L180.82,363.14 L180.87,364.20 L180.92,365.26 L180.97,366.32 L181.02,367.37 L181.06,368.43 L181.11,369.49 L181.15,370.55 L181.19,371.61 L181.24,372.67 L181.28,373.73 L181.32,374.79 L181.35,375.85 L181.39,376.91 L181.43,377.97 L181.46,379.03 L181.50,380.09 L181.53,381.15 L181.56,382.21 L181.59,383.27 L181.62,384.33 L181.65,385.39 L181.68,386.45 L181.71,387.51 L181.74,388.57 L181.76,389.63 L181.79,390.69 L181.81,391.75 L181.84,392.81 L181.86,393.87 L181.88,394.93 L181.90,396.00 L181.92,397.06 L181.94,398.12 L181.96,399.18 L181.98,400.24 L181.99,401.30 L182.01,402.36 L182.03,403.42 L182.04,404.48 L182.06,405.55 L182.07,406.61 L182.08,407.67 L182.10,408.73 L182.11,409.79 L182.12,410.85 L182.13,411.91 L182.14,412.97 L182.15,414.04 L182.16,415.10 L182.17,416.16 L182.18,417.22 L182.19,418.28 L182.20,419.34 L182.20,420.41 L182.21,421.47 L182.22,422.53 L182.23,423.59 L182.23,424.65 L182.24,425.71 L182.24,426.77 L182.25,427.84 L182.25,428.90 L182.26,429.96 L182.26,431.02 L182.27,432.08 L182.27,433.14 L182.27,434.20 L182.28,435.27 L182.28,436.33 L182.28,437.39 L182.29,438.45 L182.29,439.51 L182.29,440.57 L182.30,441.63 L182.30,442.70 L182.30,443.76 L182.31,444.82 L182.31,445.88 L182.31,446.94 L182.31,448.00 L182.32,449.06 L182.32,450.12 L182.32,451.18 L182.33,452.24 L182.33,453.31 L182.33,454.37 L182.34,455.43 L182.34,456.49 L182.34,457.55 L182.35,458.61 L182.35,459.67 L182.36,460.73 L182.36,461.79 L182.37,462.85 L182.37,463.91 L182.38,464.97 L182.38,466.03 L182.39,467.09 L182.39,468.15 L182.40,469.21 L182.41,470.27 L182.42,471.33 L182.42,472.39 L182.43,473.45 L182.44,474.51 L182.45,475.57 L182.46,476.63 L182.47,477.69 L182.48,478.75 L182.49,479.81 L182.50,480.87 L182.51,481.92 L182.53,482.98 L182.54,484.04 L182.55,485.10 L182.57,486.16 L182.58,487.22 L182.60,488.28 L182.62,489.33 L182.63,490.39 L182.68,493.40" stroke="#0072BD" stroke-linejoin="round"/>
<path d="M60.79,104.42 L61.78,105.06 L62.92,105.80 L64.06,106.54 L65.20,107.28 L66.33,108.01 L67.47,108.75 L68.61,109.49 L69.75,110.22 L70.89,110.96 L72.03,111.69 L73.17,112.43 L74.31,113.16 L75.45,113.89 L76.59,114.63 L77.74,115.36 L78.88,116.09 L80.02,116.83 L81.16,117.56 L82.30,118.29 L83.44,119.02 L84.58,119.76 L85.73,120.49 L86.87,121.22 L88.01,121.95 L89.15,122.68 L90.29,123.41 L91.43,124.14 L92.58,124.87 L93.72,125.60 L94.86,126.33 L96.00,127.06 L97.15,127.79 L98.29,128.52 L99.43,129.25 L100.57,129.98 L101.72,130.71 L102.86,131.44 L104.00,132.17 L105.14,132.90 L106.29,133.63 L107.43,134.36 L108.57,135.09 L109.71,135.82 L110.86,136.55 L112.00,137.27 L113.14,138.00 L114.28,138.73 L115.42,139.46 L116.57,140.19 L117.71,140.92 L118.85,141.65 L119.99,142.38 L121.13,143.11 L122.27,143.84 L123.42,144.57 L124.56,145.30 L125.70,146.03 L126.84,146.76 L127.98,147.49 L129.12,148.22 L130.26,148.95 L131.40,149.68 L132.54,150.42 L133.68,151.15 L134.82,151.88 L135.96,152.61 L137.10,153.34 L138.24,154.08 L139.38,154.81 L140.52,155.54 L141.66,156.28 L142.80,157.01 L143.93,157.74 L145.07,158.48 L146.21,159.21 L147.35,159.95 L148.48,160.68 L149.62,161.42 L150.76,162.16 L151.89,162.89 L153.03,163.63 L154.16,164.37 L155.30,165.10 L156.43,165.84 L157.57,166.58 L158.70,167.32 L159.84,168.06 L160.97,168.80 L162.10,169.54 L163.24,170.28 L164.37,171.02 L165.50,171.77 L166.63,172.51 L167.77,173.25 L168.90,174.00 L170.03,174.74 L171.16,175.48 L172.29,176.23 L173.42,176.98 L174.55,177.72 L175.68,178.47 L176.80,179.22 L177.93,179.97 L179.06,180.72 L180.19,181.47 L181.31,182.22 L182.44,182.97 L183.56,183.72 L184.69,184.47 L185.81,185.22 L186.94,185.98 L188.06,186.73 L189.18,187.49 L190.31,188.24 L191.43,189.00 L192.55,189.76 L193.67,190.52 L194.79,191.28 L195.91,192.04 L197.03,192.80 L198.15,193.56 L199.27,194.32 L200.39,195.09 L201.50,195.85 L202.62,196.62 L203.73,197.38 L204.85,198.15 L205.96,198.92 L207.08,199.69 L208.19,200.46 L209.30,201.23 L210.42,202.00 L211.53,202.77 L212.64,203.54 L213.75,204.32 L214.86,205.09 L215.97,205.87 L217.08,206.65 L218.18,207.43 L219.29,208.21 L220.40,208.99 L221.50,209.77 L222.61,210.55 L223.71,211.33 L224.81,212.12 L225.92,212.91 L227.02,213.69 L228.12,214.48 L229.22,215.27 L230.32,216.06 L231.42,216.85 L232.52,217.64 L233.61,218.44 L234.71,219.23 L235.81,220.03 L236.90,220.83 L237.99,221.63 L239.09,222.43 L240.18,223.23 L241.27,224.03 L242.36,224.83 L243.45,225.64 L244.54,226.44 L245.63,227.25 L246.72,228.06 L247.80,228.87 L248.89,229.68 L249.97,230.50 L251.06,231.31 L252.14,232.12 L253.22,232.94 L254.30,233.76 L255.38,234.58 L256.46,235.40 L257.54,236.22 L258.62,237.05 L259.70,237.87 L260.77,238.70 L261.85,239.53 L262.92,240.36 L263.99,241.19 L265.07,242.02 L266.14,242.85 L267.21,243.69 L268.27,244.53 L269.34,245.36 L270.41,246.20 L271.48,247.05 L272.54,247.89 L273.60,248.73 L274.67,249.58 L275.73,250.43 L276.79,251.28 L277.85,252.13 L278.91,252.98 L279.96,253.84 L281.02,254.69 L282.07,255.55 L283.13,256.41 L284.18,257.27 L285.23,258.13 L286.28,259.00 L287.32,259.87 L288.37,260.74 L289.41,261.61 L290.45,262.48 L291.49,263.36 L292.53,264.24 L293.57,265.12 L294.60,266.00 L295.63,266.88 L296.66,267.77 L297.69,268.66 L298.71,269.55 L299.73,270.45 L300.75,271.34 L301.77,272.24 L302.78,273.14 L303.80,274.05 L304.80,274.96 L305.81,275.87 L306.81,276.78 L307.81,277.69 L308.81,278.61 L309.81,279.53 L310.80,280.46 L311.79,281.38 L312.77,282.31 L313.76,283.24 L314.73,284.18 L315.71,285.12 L316.68,286.06 L317.65,287.00 L318.62,287.95 L319.58,288.90 L320.54,289.86 L321.49,290.81 L322.44,291.77 L323.39,292.74 L324.33,293.70 L325.27,294.67 L326.20,295.65 L327.13,296.63 L328.06,297.61 L328.98,298.59 L329.90,299.58 L330.82,300.57 L331.73,301.57 L332.63,302.57 L333.53,303.57 L334.43,304.58 L335.32,305.59 L336.20,306.60 L337.09,307.62 L337.96,308.64 L338.84,309.67 L339.70,310.70 L340.57,311.74 L341.42,312.77 L342.28,313.82 L343.12,314.86 L343.97,315.91 L344.80,316.97 L345.63,318.03 L346.46,319.09 L347.28,320.16 L348.09,321.23 L348.90,322.31 L349.71,323.39 L350.51,324.48 L351.30,325.57 L352.08,326.66 L352.87,327.76 L353.64,328.87 L354.41,329.98 L355.17,331.09 L355.93,332.21 L356.68,333.33 L357.43,334.45 L358.16,335.58 L358.90,336.72 L359.62,337.86 L360.35,339.00 L361.06,340.15 L361.77,341.30 L362.47,342.45 L363.17,343.61 L363.86,344.77 L364.54,345.94 L365.22,347.11 L365.89,348.29 L366.55,349.46 L367.21,350.65 L367.86,351.83 L368.51,353.02 L369.15,354.22 L369.78,355.41 L370.41,356.61 L371.02,357.82 L371.64,359.02 L372.24,360.23 L372.84,361.45 L373.44,362.67 L374.02,363.89 L374.60,365.11 L375.17,366.34 L375.74,367.57 L376.30,368.80 L376.85,370.04 L377.40,371.28 L377.94,372.52 L378.47,373.77 L378.99,375.02 L379.51,376.27 L380.02,377.53 L380.53,378.79 L381.02,380.05 L381.51,381.31 L382.00,382.58 L382.47,383.84 L382.94,385.12 L383.40,386.39 L383.86,387.67 L384.30,388.95 L384.74,390.23 L385.18,391.51 L385.60,392.80 L386.02,394.09 L386.43,395.38 L386.83,396.68 L387.23,397.97 L387.62,399.27 L388.00,400.57 L388.37,401.87 L388.74,403.18 L389.10,404.49 L389.45,405.80 L389.79,407.11 L390.13,408.42 L390.46,409.73 L390.78,411.05 L391.10,412.37 L391.41,413.69 L391.71,415.01 L392.01,416.34 L392.30,417.66 L392.58,418.99 L392.85,420.32 L393.12,421.65 L393.38,422.98 L393.64,424.31 L393.89,425.65 L394.13,426.98 L394.36,428.32 L394.59,429.66 L394.82,430.99 L395.03,432.33 L395.24,433.68 L395.45,435.02 L395.65,436.36 L395.84,437.71 L396.02,439.05 L396.20,440.40 L396.38,441.74 L396.55,443.09 L396.71,444.44 L396.87,445.79 L397.02,447.14 L397.16,448.49 L397.30,449.84 L397.44,451.19 L397.57,452.54 L397.69,453.90 L397.81,455.25 L397.92,456.60 L398.03,457.95 L398.13,459.31 L398.23,460.66 L398.32,462.01 L398.40,463.37 L398.49,464.72 L398.56,466.08 L398.63,467.43 L398.70,468.78 L398.76,470.14 L398.82,471.49 L398.87,472.84 L398.92,474.19 L398.96,475.55 L399.00,476.90 L399.04,478.25 L399.06,479.60 L399.09,480.95 L399.11,482.30 L399.13,483.65 L399.14,485.00 L399.15,486.35 L399.15,487.70 L399.15,489.04 L399.14,490.39 L399.14,493.40" stroke="#D95319" stroke-linejoin="round"/>
<path d="M60.75,102.50 L61.87,103.15 L62.57,103.55 L63.26,103.96 L63.96,104.36 L64.65,104.76 L65.34,105.17 L66.03,105.57 L66.73,105.97 L67.42,106.38 L68.11,106.78 L68.80,107.19 L69.50,107.59 L70.19,108.00 L70.88,108.40 L71.57,108.81 L72.26,109.21 L72.96,109.62 L73.65,110.02 L74.34,110.43 L75.03,110.83 L75.72,111.24 L76.41,111.65 L77.10,112.05 L77.79,112.46 L78.49,112.86 L79.18,113.27 L79.87,113.68 L80.56,114.09 L81.25,114.49 L81.94,114.90 L82.63,115.31 L83.32,115.72 L84.01,116.12 L84.70,116.53 L85.39,116.94 L86.08,117.35 L86.77,117.76 L87.45,118.16 L88.14,118.57 L88.83,118.98 L89.52,119.39 L90.21,119.80 L90.90,120.21 L91.59,120.62 L92.28,121.03 L92.97,121.44 L93.65,121.85 L94.34,122.26 L95.03,122.67 L95.72,123.08 L96.41,123.49 L97.09,123.90 L97.78,124.31 L98.47,124.72 L99.16,125.13 L99.85,125.54 L100.53,125.95 L101.22,126.36 L101.91,126.77 L102.60,127.19 L103.28,127.60 L103.97,128.01 L104.66,128.42 L105.34,128.83 L106.03,129.24 L106.72,129.66 L107.40,130.07 L108.09,130.48 L108.78,130.89 L109.46,131.31 L110.15,131.72 L110.83,132.13 L111.52,132.54 L112.21,132.96 L112.89,133.37 L113.58,133.78 L114.26,134.20 L114.95,134.61 L115.64,135.02 L116.32,135.44 L117.01,135.85 L117.69,136.27 L118.38,136.68 L119.06,137.09 L119.75,137.51 L120.43,137.92 L121.12,138.34 L121.80,138.75 L122.49,139.17 L123.17,139.58 L123.86,139.99 L124.54,140.41 L125.23,140.82 L125.91,141.24 L126.60,141.65 L127.28,142.07 L127.97,142.48 L128.65,142.90 L129.33,143.32 L130.02,143.73 L130.70,144.15 L131.39,144.56 L132.07,144.98 L132.75,145.39 L133.44,145.81 L134.12,146.23 L134.81,146.64 L135.49,147.06 L136.17,147.47 L136.86,147.89 L137.54,148.31 L138.22,148.72 L138.91,149.14 L139.59,149.56 L140.27,149.97 L140.96,150.39 L141.64,150.81 L142.32,151.22 L143.01,151.64 L143.69,152.06 L144.37,152.47 L145.06,152.89 L145.74,153.31 L146.42,153.72 L147.11,154.14 L147.79,154.56 L148.47,154.98 L149.15,155.39 L149.84,155.81 L150.52,156.23 L151.20,156.65 L151.88,157.06 L152.57,157.48 L153.25,157.90 L153.93,158.32 L154.61,158.74 L155.30,159.15 L155.98,159.57 L156.66,159.99 L157.34,160.41 L158.03,160.83 L158.71,161.24 L159.39,161.66 L160.07,162.08 L160.75,162.50 L161.44,162.92 L162.12,163.34 L162.80,163.75 L163.48,164.17 L164.16,164.59 L164.85,165.01 L165.53,165.43 L166.21,165.85 L166.89,166.26 L167.57,166.68 L168.26,167.10 L168.94,167.52 L169.62,167.94 L170.30,168.36 L170.98,168.78 L171.67,169.20 L172.35,169.61 L173.03,170.03 L173.71,170.45 L174.39,170.87 L175.07,171.29 L175.76,171.71 L176.44,172.13 L177.12,172.55 L177.80,172.97 L178.48,173.38 L179.16,173.80 L179.84,174.22 L180.53,174.64 L181.21,175.06 L181.89,175.48 L182.57,175.90 L183.25,176.32 L183.93,176.74 L184.62,177.16 L185.30,177.58 L185.98,178.00 L186.66,178.41 L187.34,178.83 L188.02,179.25 L188.70,179.67 L189.39,180.09 L190.07,180.51 L190.75,180.93 L191.43,181.35 L192.11,181.77 L192.79,182.19 L193.47,182.61 L194.16,183.02 L194.84,183.44 L195.52,183.86 L196.20,184.28 L196.88,184.70 L197.56,185.12 L198.24,185.54 L198.93,185.96 L199.61,186.38 L200.29,186.80 L200.97,187.22 L201.65,187.64 L202.33,188.05 L203.01,188.47 L203.70,188.89 L204.38,189.31 L205.06,189.73 L205.74,190.15 L206.42,190.57 L207.10,190.99 L207.79,191.41 L208.47,191.82 L209.15,192.24 L209.83,192.66 L210.51,193.08 L211.19,193.50 L211.88,193.92 L212.56,194.34 L213.24,194.76 L213.92,195.17 L214.60,195.59 L215.29,196.01 L215.97,196.43 L216.65,196.85 L217.33,197.27 L218.01,197.69 L218.69,198.10 L219.38,198.52 L220.06,198.94 L220.74,199.36 L221.42,199.78 L222.11,200.20 L222.79,200.61 L223.47,201.03 L224.15,201.45 L224.83,201.87 L225.52,202.29 L226.20,202.70 L226.88,203.12 L227.56,203.54 L228.25,203.96 L228.93,204.37 L229.61,204.79 L230.29,205.21 L230.98,205.63 L231.66,206.04 L232.34,206.46 L233.02,206.88 L233.71,207.30 L234.39,207.71 L235.07,208.13 L235.75,208.55 L236.44,208.97 L237.12,209.38 L237.80,209.80 L238.49,210.22 L239.17,210.63 L239.85,211.05 L240.54,211.47 L241.22,211.88 L241.90,212.30 L242.59,212.72 L243.27,213.13 L243.95,213.55 L244.64,213.96 L245.32,214.38 L246.00,214.80 L246.69,215.21 L247.37,215.63 L248.06,216.04 L248.74,216.46 L249.42,216.88 L250.11,217.29 L250.79,217.71 L251.47,218.12 L252.16,218.54 L252.84,218.95 L253.53,219.37 L254.21,219.78 L254.90,220.20 L255.58,220.61 L256.27,221.03 L256.95,221.44 L257.63,221.86 L258.32,222.27 L259.00,222.69 L259.69,223.10 L260.37,223.52 L261.06,223.93 L261.74,224.34 L262.43,224.76 L263.11,225.17 L263.80,225.59 L264.48,226.00 L265.17,226.41 L265.86,226.83 L266.54,227.24 L267.23,227.65 L267.91,228.07 L268.60,228.48 L269.28,228.89 L269.97,229.31 L270.66,229.72 L271.34,230.13 L272.03,230.54 L272.71,230.96 L273.40,231.37 L274.09,231.78 L274.77,232.19 L275.46,232.60 L276.15,233.02 L276.83,233.43 L277.52,233.84 L278.21,234.25 L278.89,234.66 L279.58,235.07 L280.27,235.49 L280.96,235.90 L281.64,236.31 L282.33,236.72 L283.02,237.13 L283.71,237.54 L284.39,237.95 L285.08,238.36 L285.77,238.77 L286.46,239.18 L287.15,239.59 L287.83,240.00 L288.52,240.41 L289.21,240.82 L289.90,241.23 L290.59,241.64 L291.28,242.05 L291.97,242.45 L292.65,242.86 L293.34,243.27 L294.03,243.68 L294.72,244.09 L295.41,244.50 L296.10,244.91 L296.79,245.31 L297.48,245.72 L298.17,246.13 L298.86,246.54 L299.55,246.94 L300.24,247.35 L300.93,247.76 L301.62,248.16 L302.31,248.57 L303.00,248.98 L303.69,249.38 L304.38,249.79 L305.07,250.20 L305.76,250.60 L306.45,251.01 L307.14,251.42 L307.84,251.82 L308.53,252.23 L309.22,252.63 L309.91,253.04 L310.60,253.44 L311.29,253.85 L311.98,254.25 L312.67,254.66 L313.37,255.06 L314.06,255.47 L314.75,255.88 L315.44,256.28 L316.13,256.69 L316.82,257.09 L317.52,257.49 L318.21,257.90 L318.90,258.30 L319.59,258.71 L320.28,259.11 L320.98,259.52 L321.67,259.92 L322.36,260.33 L323.05,260.73 L323.74,261.14 L324.43,261.54 L325.13,261.95 L325.82,262.35 L326.51,262.76 L327.20,263.16 L327.89,263.57 L328.58,263.97 L329.28,264.38 L329.97,264.78 L330.66,265.19 L331.35,265.59 L332.04,266.00 L332.73,266.40 L333.43,266.81 L334.12,267.21 L334.81,267.62 L335.50,268.03 L336.19,268.43 L336.88,268.84 L337.57,269.24 L338.26,269.65 L338.95,270.06 L339.65,270.46 L340.34,270.87 L341.03,271.28 L341.72,271.68 L342.41,272.09 L343.10,272.50 L343.79,272.90 L344.48,273.31 L345.17,273.72 L345.86,274.12 L346.55,274.53 L347.24,274.94 L347.93,275.35 L348.62,275.76 L349.31,276.16 L349.99,276.57 L350.68,276.98 L351.37,277.39 L352.06,277.80 L352.75,278.21 L353.44,278.62 L354.13,279.03 L354.82,279.44 L355.50,279.85 L356.19,280.26 L356.88,280.67 L357.57,281.08 L358.25,281.49 L358.94,281.90 L359.63,282.32 L360.31,282.73 L361.00,283.14 L361.69,283.55 L362.37,283.97 L363.06,284.38 L363.75,284.79 L364.43,285.20 L365.12,285.62 L365.80,286.03 L366.49,286.45 L367.17,286.86 L367.86,287.28 L368.54,287.69 L369.23,288.11 L369.91,288.52 L370.59,288.94 L371.28,289.36 L371.96,289.77 L372.64,290.19 L373.33,290.61 L374.01,291.03 L374.69,291.45 L375.37,291.86 L376.05,292.28 L376.74,292.70 L377.42,293.12 L378.10,293.54 L378.78,293.96 L379.46,294.38 L380.14,294.81 L380.82,295.23 L381.50,295.65 L382.18,296.07 L382.86,296.50 L383.54,296.92 L384.21,297.34 L384.89,297.77 L385.57,298.19 L386.25,298.62 L386.92,299.04 L387.60,299.47 L388.28,299.90 L388.95,300.32 L389.63,300.75 L390.30,301.18 L390.98,301.61 L391.65,302.03 L392.33,302.46 L393.00,302.89 L393.68,303.32 L394.35,303.75 L395.02,304.19 L395.70,304.62 L396.37,305.05 L397.04,305.48 L397.71,305.92 L398.38,306.35 L399.06,306.78 L399.73,307.22 L400.40,307.65 L401.07,308.09 L401.74,308.53 L402.40,308.96 L403.07,309.40 L403.74,309.84 L404.41,310.28 L405.08,310.72 L405.74,311.16 L406.41,311.60 L407.08,312.04 L407.74,312.48 L408.41,312.92 L409.07,313.36 L409.74,313.81 L410.40,314.25 L411.07,314.70 L411.73,315.14 L412.39,315.59 L413.05,316.03 L413.72,316.48 L414.38,316.93 L415.04,317.38 L415.70,317.82 L416.36,318.27 L417.02,318.72 L417.68,319.18 L418.34,319.63 L419.00,320.08 L419.65,320.53 L420.31,320.99 L420.97,321.44 L421.62,321.89 L422.28,322.35 L422.93,322.81 L423.59,323.26 L424.24,323.72 L424.90,324.18 L425.55,324.64 L426.20,325.10 L426.86,325.56 L427.51,326.02 L428.16,326.48 L428.81,326.94 L429.46,327.41 L430.11,327.87 L430.76,328.34 L431.41,328.80 L432.06,329.27 L432.70,329.74 L433.35,330.20 L434.00,330.67 L434.64,331.14 L435.29,331.61 L435.93,332.08 L436.58,332.56 L437.22,333.03 L437.86,333.50 L438.51,333.98 L439.15,334.45 L439.79,334.93 L440.43,335.40 L441.07,335.88 L441.71,336.36 L442.35,336.84 L442.99,337.32 L443.63,337.80 L444.26,338.28 L444.90,338.76 L445.54,339.25 L446.17,339.73 L446.81,340.22 L447.44,340.70 L448.07,341.19 L448.71,341.68 L449.34,342.17 L449.97,342.66 L450.60,343.15 L451.23,343.64 L451.86,344.13 L452.49,344.62 L453.12,345.12 L453.75,345.61 L454.38,346.11 L455.00,346.60 L455.63,347.10 L456.25,347.60 L456.88,348.10 L457.50,348.60 L458.12,349.10 L458.75,349.61 L459.37,350.11 L459.99,350.61 L460.61,351.12 L461.23,351.62 L461.85,352.13 L462.47,352.64 L463.08,353.15 L463.70,353.66 L464.32,354.17 L464.93,354.68 L465.55,355.20 L466.16,355.71 L466.78,356.23 L467.39,356.74 L468.00,357.26 L468.61,357.78 L469.22,358.30 L469.83,358.82 L470.44,359.34 L471.04,359.86 L471.65,360.39 L472.26,360.91 L472.86,361.44 L473.46,361.97 L474.07,362.49 L474.67,363.02 L475.27,363.56 L475.87,364.09 L476.46,364.62 L477.06,365.15 L477.66,365.69 L478.25,366.23 L478.84,366.77 L479.44,367.30 L480.03,367.84 L480.62,368.39 L481.21,368.93 L481.79,369.47 L482.38,370.02 L482.96,370.57 L483.55,371.11 L484.13,371.66 L484.71,372.21 L485.29,372.77 L485.86,373.32 L486.44,373.87 L487.01,374.43 L487.59,374.99 L488.16,375.55 L488.73,376.11 L489.29,376.67 L489.86,377.23 L490.43,377.80 L490.99,378.36 L491.55,378.93 L492.11,379.50 L492.67,380.07 L493.22,380.64 L493.78,381.21 L494.33,381.79 L494.88,382.36 L495.43,382.94 L495.98,383.52 L496.53,384.10 L497.07,384.68 L497.61,385.26 L498.15,385.85 L498.69,386.44 L499.23,387.02 L499.76,387.61 L500.29,388.21 L500.82,388.80 L501.35,389.39 L501.88,389.99 L502.40,390.59 L502.92,391.19 L503.44,391.79 L503.96,392.39 L504.47,393.00 L504.99,393.60 L505.50,394.21 L506.01,394.82 L506.51,395.43 L507.02,396.04 L507.52,396.66 L508.02,397.27 L508.51,397.89 L509.01,398.51 L509.50,399.13 L509.99,399.76 L510.48,400.38 L510.96,401.01 L511.45,401.64 L511.93,402.27 L512.40,402.90 L512.88,403.53 L513.35,404.17 L513.82,404.81 L514.29,405.45 L514.75,406.09 L515.21,406.73 L515.67,407.38 L516.13,408.02 L516.58,408.67 L517.04,409.32 L517.48,409.98 L517.93,410.63 L518.37,411.29 L518.81,411.95 L519.25,412.61 L519.69,413.27 L520.12,413.93 L520.55,414.60 L520.97,415.27 L521.39,415.94 L521.81,416.61 L522.23,417.29 L522.64,417.96 L523.06,418.64 L523.46,419.32 L523.87,420.00 L524.27,420.69 L524.67,421.38 L525.06,422.06 L525.46,422.75 L525.85,423.45 L526.23,424.14 L526.62,424.84 L527.00,425.54 L527.37,426.24 L527.75,426.94 L528.12,427.64 L528.49,428.35 L528.85,429.06 L529.21,429.77 L529.57,430.48 L529.92,431.19 L530.28,431.91 L530.62,432.62 L530.97,433.34 L531.31,434.06 L531.65,434.79 L531.99,435.51 L532.32,436.24 L532.65,436.96 L532.97,437.69 L533.30,438.43 L533.62,439.16 L533.93,439.89 L534.24,440.63 L534.55,441.37 L534.86,442.11 L535.16,442.85 L535.46,443.59 L535.76,444.34 L536.05,445.08 L536.34,445.83 L536.63,446.58 L536.91,447.33 L537.19,448.09 L537.46,448.84 L537.74,449.60 L538.01,450.35 L538.27,451.11 L538.53,451.87 L538.79,452.64 L539.05,453.40 L539.30,454.17 L539.55,454.93 L539.79,455.70 L540.03,456.47 L540.27,457.24 L540.51,458.01 L540.74,458.79 L540.96,459.56 L541.19,460.34 L541.41,461.12 L541.62,461.90 L541.84,462.68 L542.05,463.46 L542.25,464.25 L542.46,465.03 L542.65,465.82 L542.85,466.61 L543.04,467.40 L543.23,468.19 L543.41,468.98 L543.59,469.77 L543.77,470.57 L543.94,471.36 L544.11,472.16 L544.28,472.96 L544.44,473.76 L544.60,474.56 L544.76,475.36 L544.91,476.16 L545.05,476.97 L545.20,477.77 L545.34,478.58 L545.47,479.39 L545.61,480.20 L545.74,481.01 L545.86,481.82 L545.98,482.63 L546.10,483.45 L546.21,484.26 L546.32,485.08 L546.43,485.89 L546.53,486.71 L546.63,487.53 L546.72,488.35 L546.81,489.17 L546.90,489.99 L546.98,490.82 L547.26,493.40" stroke="#EDB120" stroke-linejoin="round"/>
<path d="M60.80,102.17 L61.95,102.86 L62.67,103.30 L63.39,103.73 L64.12,104.17 L64.84,104.60 L65.56,105.04 L66.29,105.47 L67.01,105.91 L67.73,106.35 L68.46,106.78 L69.18,107.22 L69.90,107.65 L70.63,108.09 L71.35,108.52 L72.07,108.96 L72.80,109.39 L73.52,109.82 L74.24,110.26 L74.97,110.69 L75.69,111.13 L76.41,111.56 L77.14,112.00 L77.86,112.43 L78.58,112.86 L79.30,113.30 L80.03,113.73 L80.75,114.17 L81.47,114.60 L82.20,115.03 L82.92,115.47 L83.64,115.90 L84.37,116.34 L85.09,116.77 L85.81,117.20 L86.54,117.64 L87.26,118.07 L87.98,118.50 L88.71,118.93 L89.43,119.37 L90.15,119.80 L90.87,120.23 L91.60,120.67 L92.32,121.10 L93.04,121.53 L93.77,121.96 L94.49,122.40 L95.21,122.83 L95.94,123.26 L96.66,123.69 L97.38,124.13 L98.10,124.56 L98.83,124.99 L99.55,125.42 L100.27,125.85 L101.00,126.29 L101.72,126.72 L102.44,127.15 L103.17,127.58 L103.89,128.01 L104.61,128.44 L105.33,128.88 L106.06,129.31 L106.78,129.74 L107.50,130.17 L108.23,130.60 L108.95,131.03 L109.67,131.46 L110.40,131.89 L111.12,132.33 L111.84,132.76 L112.56,133.19 L113.29,133.62 L114.01,134.05 L114.73,134.48 L115.46,134.91 L116.18,135.34 L116.90,135.77 L117.62,136.20 L118.35,136.63 L119.07,137.06 L119.79,137.49 L120.52,137.92 L121.24,138.35 L121.96,138.78 L122.69,139.21 L123.41,139.64 L124.13,140.07 L124.85,140.50 L125.58,140.93 L126.30,141.36 L127.02,141.79 L127.75,142.22 L128.47,142.65 L129.19,143.08 L129.91,143.51 L130.64,143.94 L131.36,144.37 L132.08,144.80 L132.81,145.23 L133.53,145.65 L134.25,146.08 L134.97,146.51 L135.70,146.94 L136.42,147.37 L137.14,147.80 L137.87,148.23 L138.59,148.66 L139.31,149.08 L140.04,149.51 L140.76,149.94 L141.48,150.37 L142.20,150.80 L142.93,151.23 L143.65,151.66 L144.37,152.08 L145.10,152.51 L145.82,152.94 L146.54,153.37 L147.26,153.80 L147.99,154.22 L148.71,154.65 L149.43,155.08 L150.16,155.51 L150.88,155.94 L151.60,156.36 L152.33,156.79 L153.05,157.22 L153.77,157.65 L154.49,158.07 L155.22,158.50 L155.94,158.93 L156.66,159.36 L157.39,159.78 L158.11,160.21 L158.83,160.64 L159.56,161.06 L160.28,161.49 L161.00,161.92 L161.72,162.34 L162.45,162.77 L163.17,163.20 L163.89,163.63 L164.62,164.05 L165.34,164.48 L166.06,164.91 L166.79,165.33 L167.51,165.76 L168.23,166.19 L168.96,166.61 L169.68,167.04 L170.40,167.46 L171.13,167.89 L171.85,168.32 L172.57,168.74 L173.29,169.17 L174.02,169.60 L174.74,170.02 L175.46,170.45 L176.19,170.87 L176.91,171.30 L177.63,171.73 L178.36,172.15 L179.08,172.58 L179.80,173.00 L180.53,173.43 L181.25,173.86 L181.97,174.28 L182.70,174.71 L183.42,175.13 L184.14,175.56 L184.87,175.98 L185.59,176.41 L186.31,176.83 L187.04,177.26 L187.76,177.68 L188.48,178.11 L189.21,178.54 L189.93,178.96 L190.65,179.39 L191.38,179.81 L192.10,180.24 L192.82,180.66 L193.55,181.09 L194.27,181.51 L194.99,181.94 L195.72,182.36 L196.44,182.79 L197.16,183.21 L197.89,183.64 L198.61,184.06 L199.33,184.48 L200.06,184.91 L200.78,185.33 L201.51,185.76 L202.23,186.18 L202.95,186.61 L203.68,187.03 L204.40,187.46 L205.12,187.88 L205.85,188.31 L206.57,188.73 L207.29,189.15 L208.02,189.58 L208.74,190.00 L209.47,190.43 L210.19,190.85 L210.91,191.28 L211.64,191.70 L212.36,192.12 L213.08,192.55 L213.81,192.97 L214.53,193.40 L215.26,193.82 L215.98,194.24 L216.70,194.67 L217.43,195.09 L218.15,195.51 L218.87,195.94 L219.60,196.36 L220.32,196.79 L221.05,197.21 L221.77,197.63 L222.49,198.06 L223.22,198.48 L223.94,198.90 L224.67,199.33 L225.39,199.75 L226.11,200.17 L226.84,200.60 L227.56,201.02 L228.29,201.44 L229.01,201.87 L229.73,202.29 L230.46,202.71 L231.18,203.14 L231.91,203.56 L232.63,203.98 L233.36,204.41 L234.08,204.83 L234.80,205.25 L235.53,205.68 L236.25,206.10 L236.98,206.52 L237.70,206.95 L238.43,207.37 L239.15,207.79 L239.87,208.22 L240.60,208.64 L241.32,209.06 L242.05,209.48 L242.77,209.91 L243.50,210.33 L244.22,210.75 L244.94,211.18 L245.67,211.60 L246.39,212.02 L247.12,212.44 L247.84,212.87 L248.57,213.29 L249.29,213.71 L250.02,214.13 L250.74,214.56 L251.47,214.98 L252.19,215.40 L252.92,215.82 L253.64,216.25 L254.37,216.67 L255.09,217.09 L255.81,217.51 L256.54,217.94 L257.26,218.36 L257.99,218.78 L258.71,219.20 L259.44,219.63 L260.16,220.05 L260.89,220.47 L261.61,220.89 L262.34,221.32 L263.06,221.74 L263.79,222.16 L264.51,222.58 L265.24,223.01 L265.96,223.43 L266.69,223.85 L267.41,224.27 L268.14,224.69 L268.86,225.12 L269.59,225.54 L270.32,225.96 L271.04,226.38 L271.77,226.80 L272.49,227.23 L273.22,227.65 L273.94,228.07 L274.67,228.49 L275.39,228.91 L276.12,229.34 L276.84,229.76 L277.57,230.18 L278.29,230.60 L279.02,231.02 L279.75,231.45 L280.47,231.87 L281.20,232.29 L281.92,232.71 L282.65,233.13 L283.37,233.56 L284.10,233.98 L284.82,234.40 L285.55,234.82 L286.28,235.24 L287.00,235.67 L287.73,236.09 L288.45,236.51 L289.18,236.93 L289.91,237.35 L290.63,237.77 L291.36,238.20 L292.08,238.62 L292.81,239.04 L293.54,239.46 L294.26,239.88 L294.99,240.30 L295.71,240.73 L296.44,241.15 L297.17,241.57 L297.89,241.99 L298.62,242.41 L299.35,242.83 L300.07,243.26 L300.80,243.68 L301.52,244.10 L302.25,244.52 L302.98,244.94 L303.70,245.36 L304.43,245.79 L305.16,246.21 L305.88,246.63 L306.61,247.05 L307.34,247.47 L308.06,247.89 L308.79,248.32 L309.52,248.74 L310.24,249.16 L310.97,249.58 L311.70,250.00 L312.42,250.42 L313.15,250.85 L313.88,251.27 L314.60,251.69 L315.33,252.11 L316.06,252.53 L316.78,252.95 L317.51,253.38 L318.24,253.80 L318.97,254.22 L319.69,254.64 L320.42,255.06 L321.15,255.48 L321.87,255.90 L322.60,256.33 L323.33,256.75 L324.06,257.17 L324.78,257.59 L325.51,258.01 L326.24,258.43 L326.96,258.86 L327.69,259.28 L328.42,259.70 L329.15,260.12 L329.87,260.54 L330.60,260.96 L331.33,261.39 L332.06,261.81 L332.79,262.23 L333.51,262.65 L334.24,263.07 L334.97,263.49 L335.70,263.92 L336.42,264.34 L337.15,264.76 L337.88,265.18 L338.61,265.60 L339.34,266.02 L340.06,266.45 L340.79,266.87 L341.52,267.29 L342.25,267.71 L342.98,268.13 L343.70,268.55 L344.43,268.98 L345.16,269.40 L345.89,269.82 L346.62,270.24 L347.35,270.66 L348.07,271.08 L348.80,271.51 L349.53,271.93 L350.26,272.35 L350.99,272.77 L351.72,273.19 L352.45,273.61 L353.17,274.04 L353.90,274.46 L354.63,274.88 L355.36,275.30 L356.09,275.72 L356.82,276.15 L357.55,276.57 L358.28,276.99 L359.01,277.41 L359.73,277.83 L360.46,278.26 L361.19,278.68 L361.92,279.10 L362.65,279.52 L363.38,279.94 L364.11,280.37 L364.84,280.79 L365.57,281.21 L366.30,281.63 L367.03,282.05 L367.76,282.48 L368.48,282.90 L369.21,283.32 L369.94,283.74 L370.67,284.16 L371.40,284.59 L372.13,285.01 L372.86,285.43 L373.59,285.85 L374.32,286.27 L375.05,286.70 L375.78,287.12 L376.51,287.54 L377.24,287.96 L377.97,288.39 L378.70,288.81 L379.43,289.23 L380.16,289.65 L380.89,290.08 L381.62,290.50 L382.35,290.92 L383.08,291.34 L383.81,291.77 L384.54,292.19 L385.27,292.61 L386.00,293.03 L386.73,293.46 L387.46,293.88 L388.19,294.30 L388.92,294.73 L389.65,295.15 L390.38,295.57 L391.11,296.00 L391.84,296.42 L392.57,296.85 L393.30,297.27 L394.03,297.69 L394.76,298.12 L395.49,298.54 L396.22,298.97 L396.95,299.39 L397.68,299.82 L398.40,300.24 L399.13,300.67 L399.86,301.09 L400.59,301.52 L401.32,301.95 L402.05,302.37 L402.78,302.80 L403.50,303.22 L404.23,303.65 L404.96,304.08 L405.69,304.51 L406.41,304.93 L407.14,305.36 L407.87,305.79 L408.60,306.22 L409.32,306.65 L410.05,307.07 L410.78,307.50 L411.50,307.93 L412.23,308.36 L412.96,308.79 L413.68,309.22 L414.41,309.65 L415.13,310.08 L415.86,310.51 L416.58,310.95 L417.31,311.38 L418.03,311.81 L418.76,312.24 L419.48,312.67 L420.20,313.11 L420.93,313.54 L421.65,313.97 L422.37,314.41 L423.10,314.84 L423.82,315.28 L424.54,315.71 L425.26,316.15 L425.98,316.58 L426.71,317.02 L427.43,317.46 L428.15,317.89 L428.87,318.33 L429.59,318.77 L430.31,319.21 L431.03,319.65 L431.75,320.08 L432.47,320.52 L433.18,320.96 L433.90,321.40 L434.62,321.84 L435.34,322.29 L436.05,322.73 L436.77,323.17 L437.49,323.61 L438.20,324.06 L438.92,324.50 L439.64,324.94 L440.35,325.39 L441.07,325.83 L441.78,326.28 L442.49,326.72 L443.21,327.17 L443.92,327.62 L444.63,328.07 L445.34,328.51 L446.06,328.96 L446.77,329.41 L447.48,329.86 L448.19,330.31 L448.90,330.76 L449.61,331.21 L450.32,331.67 L451.03,332.12 L451.74,332.57 L452.44,333.02 L453.15,333.48 L453.86,333.93 L454.57,334.39 L455.27,334.84 L455.98,335.30 L456.68,335.76 L457.39,336.22 L458.09,336.67 L458.79,337.13 L459.50,337.59 L460.20,338.05 L460.90,338.51 L461.60,338.98 L462.31,339.44 L463.01,339.90 L463.71,340.36 L464.41,340.83 L465.10,341.29 L465.80,341.76 L466.50,342.22 L467.20,342.69 L467.89,343.16 L468.59,343.63 L469.29,344.10 L469.98,344.57 L470.68,345.04 L471.37,345.51 L472.06,345.98 L472.76,346.45 L473.45,346.93 L474.14,347.40 L474.83,347.87 L475.52,348.35 L476.21,348.83 L476.90,349.30 L477.59,349.78 L478.27,350.26 L478.96,350.74 L479.65,351.22 L480.33,351.70 L481.02,352.18 L481.70,352.67 L482.39,353.15 L483.07,353.63 L483.75,354.12 L484.44,354.60 L485.12,355.09 L485.80,355.58 L486.48,356.07 L487.16,356.56 L487.83,357.05 L488.51,357.54 L489.19,358.03 L489.87,358.52 L490.54,359.01 L491.22,359.51 L491.89,360.00 L492.56,360.50 L493.24,361.00 L493.91,361.50 L494.58,361.99 L495.25,362.49 L495.92,362.99 L496.59,363.50 L497.26,364.00 L497.92,364.50 L498.59,365.01 L499.26,365.51 L499.92,366.02 L500.59,366.53 L501.25,367.03 L501.91,367.54 L502.57,368.05 L503.23,368.56 L503.89,369.08 L504.55,369.59 L505.21,370.10 L505.87,370.62 L506.53,371.13 L507.18,371.65 L507.84,372.17 L508.49,372.69 L509.15,373.21 L509.80,373.73 L510.45,374.25 L511.10,374.77 L511.75,375.30 L512.40,375.82 L513.05,376.35 L513.70,376.88 L514.34,377.40 L514.99,377.93 L515.64,378.46 L516.28,379.00 L516.92,379.53 L517.56,380.06 L518.21,380.60 L518.85,381.13 L519.49,381.67 L520.12,382.21 L520.76,382.75 L521.40,383.29 L522.03,383.83 L522.67,384.37 L523.30,384.92 L523.93,385.46 L524.57,386.01 L525.20,386.55 L525.83,387.10 L526.46,387.65 L527.08,388.20 L527.71,388.76 L528.34,389.31 L528.96,389.86 L529.59,390.42 L530.21,390.97 L530.83,391.53 L531.45,392.09 L532.07,392.65 L532.69,393.21 L533.31,393.78 L533.92,394.34 L534.54,394.90 L535.16,395.47 L535.77,396.04 L536.38,396.61 L536.99,397.18 L537.60,397.75 L538.21,398.32 L538.82,398.90 L539.43,399.47 L540.03,400.05 L540.64,400.63 L541.24,401.20 L541.85,401.79 L542.45,402.37 L543.05,402.95 L543.65,403.53 L544.25,404.12 L544.84,404.71 L545.44,405.29 L546.04,405.88 L546.63,406.48 L547.22,407.07 L547.81,407.66 L548.40,408.26 L548.99,408.85 L549.58,409.45 L550.16,410.05 L550.74,410.66 L551.33,411.26 L551.90,411.86 L552.48,412.47 L553.06,413.08 L553.63,413.69 L554.20,414.30 L554.77,414.92 L555.34,415.53 L555.90,416.15 L556.46,416.77 L557.02,417.39 L557.58,418.02 L558.13,418.64 L558.69,419.27 L559.24,419.90 L559.78,420.53 L560.32,421.17 L560.87,421.81 L561.40,422.44 L561.94,423.09 L562.47,423.73 L563.00,424.38 L563.52,425.02 L564.04,425.68 L564.56,426.33 L565.08,426.98 L565.59,427.64 L566.10,428.30 L566.60,428.97 L567.10,429.63 L567.60,430.30 L568.09,430.97 L568.58,431.65 L569.06,432.33 L569.54,433.00 L570.02,433.69 L570.49,434.37 L570.96,435.06 L571.43,435.75 L571.89,436.45 L572.34,437.14 L572.79,437.84 L573.24,438.55 L573.68,439.25 L574.12,439.96 L574.55,440.67 L574.98,441.39 L575.40,442.11 L575.82,442.83 L576.24,443.55 L576.65,444.28 L577.05,445.01 L577.45,445.74 L577.85,446.47 L578.24,447.21 L578.63,447.95 L579.01,448.69 L579.39,449.44 L579.76,450.19 L580.13,450.94 L580.49,451.69 L580.85,452.45 L581.21,453.21 L581.56,453.97 L581.90,454.74 L582.24,455.50 L582.57,456.27 L582.90,457.04 L583.23,457.82 L583.55,458.60 L583.86,459.38 L584.17,460.16 L584.48,460.94 L584.78,461.73 L585.07,462.52 L585.36,463.31 L585.65,464.11 L585.92,464.91 L586.20,465.71 L586.47,466.51 L586.73,467.31 L586.99,468.12 L587.25,468.93 L587.50,469.74 L587.74,470.56 L587.98,471.37 L588.21,472.19 L588.44,473.01 L588.66,473.84 L588.88,474.66 L589.09,475.49 L589.30,476.32 L589.50,477.15 L589.70,477.98 L589.89,478.82 L590.08,479.66 L590.26,480.50 L590.43,481.34 L590.60,482.19 L590.77,483.04 L590.93,483.89 L591.08,484.74 L591.23,485.59 L591.37,486.45 L591.51,487.30 L591.64,488.16 L591.76,489.03 L591.89,489.89 L592.00,490.75 L592.38,493.40" stroke="#7E2F8E" stroke-linejoin="round"/>
<path d="M60.81,101.86 L61.97,102.56 L62.69,103.00 L63.42,103.44 L64.14,103.88 L64.87,104.32 L65.60,104.76 L66.32,105.20 L67.05,105.64 L67.77,106.08 L68.50,106.52 L69.23,106.96 L69.95,107.40 L70.68,107.84 L71.41,108.28 L72.13,108.72 L72.86,109.16 L73.58,109.60 L74.31,110.03 L75.04,110.47 L75.76,110.91 L76.49,111.35 L77.22,111.79 L77.95,112.23 L78.67,112.67 L79.40,113.11 L80.13,113.55 L80.85,113.98 L81.58,114.42 L82.31,114.86 L83.03,115.30 L83.76,115.74 L84.49,116.18 L85.22,116.61 L85.94,117.05 L86.67,117.49 L87.40,117.93 L88.13,118.36 L88.85,118.80 L89.58,119.24 L90.31,119.68 L91.04,120.12 L91.76,120.55 L92.49,120.99 L93.22,121.43 L93.95,121.87 L94.67,122.30 L95.40,122.74 L96.13,123.18 L96.86,123.61 L97.59,124.05 L98.31,124.49 L99.04,124.93 L99.77,125.36 L100.50,125.80 L101.23,126.24 L101.95,126.67 L102.68,127.11 L103.41,127.55 L104.14,127.98 L104.87,128.42 L105.60,128.85 L106.32,129.29 L107.05,129.73 L107.78,130.16 L108.51,130.60 L109.24,131.04 L109.97,131.47 L110.70,131.91 L111.43,132.34 L112.15,132.78 L112.88,133.22 L113.61,133.65 L114.34,134.09 L115.07,134.52 L115.80,134.96 L116.53,135.39 L117.26,135.83 L117.99,136.26 L118.72,136.70 L119.44,137.13 L120.17,137.57 L120.90,138.00 L121.63,138.44 L122.36,138.88 L123.09,139.31 L123.82,139.74 L124.55,140.18 L125.28,140.61 L126.01,141.05 L126.74,141.48 L127.47,141.92 L128.20,142.35 L128.93,142.79 L129.66,143.22 L130.39,143.66 L131.12,144.09 L131.85,144.52 L132.58,144.96 L133.31,145.39 L134.04,145.83 L134.77,146.26 L135.50,146.70 L136.23,147.13 L136.96,147.56 L137.69,148.00 L138.42,148.43 L139.15,148.86 L139.88,149.30 L140.61,149.73 L141.34,150.17 L142.07,150.60 L142.80,151.03 L143.53,151.47 L144.26,151.90 L144.99,152.33 L145.72,152.77 L146.45,153.20 L147.18,153.63 L147.91,154.06 L148.64,154.50 L149.38,154.93 L150.11,155.36 L150.84,155.80 L151.57,156.23 L152.30,156.66 L153.03,157.09 L153.76,157.53 L154.49,157.96 L155.22,158.39 L155.95,158.82 L156.68,159.26 L157.42,159.69 L158.15,160.12 L158.88,160.55 L159.61,160.99 L160.34,161.42 L161.07,161.85 L161.80,162.28 L162.53,162.71 L163.27,163.15 L164.00,163.58 L164.73,164.01 L165.46,164.44 L166.19,164.87 L166.92,165.30 L167.66,165.74 L168.39,166.17 L169.12,166.60 L169.85,167.03 L170.58,167.46 L171.31,167.89 L172.05,168.32 L172.78,168.76 L173.51,169.19 L174.24,169.62 L174.97,170.05 L175.71,170.48 L176.44,170.91 L177.17,171.34 L177.90,171.77 L178.63,172.20 L179.37,172.63 L180.10,173.07 L180.83,173.50 L181.56,173.93 L182.29,174.36 L183.03,174.79 L183.76,175.22 L184.49,175.65 L185.22,176.08 L185.96,176.51 L186.69,176.94 L187.42,177.37 L188.15,177.80 L188.89,178.23 L189.62,178.66 L190.35,179.09 L191.08,179.52 L191.82,179.95 L192.55,180.38 L193.28,180.81 L194.02,181.24 L194.75,181.67 L195.48,182.10 L196.21,182.53 L196.95,182.96 L197.68,183.39 L198.41,183.82 L199.15,184.25 L199.88,184.68 L200.61,185.11 L201.34,185.54 L202.08,185.96 L202.81,186.39 L203.54,186.82 L204.28,187.25 L205.01,187.68 L205.74,188.11 L206.48,188.54 L207.21,188.97 L207.94,189.40 L208.68,189.83 L209.41,190.25 L210.14,190.68 L210.88,191.11 L211.61,191.54 L212.34,191.97 L213.08,192.40 L213.81,192.83 L214.54,193.25 L215.28,193.68 L216.01,194.11 L216.75,194.54 L217.48,194.97 L218.21,195.40 L218.95,195.82 L219.68,196.25 L220.41,196.68 L221.15,197.11 L221.88,197.54 L222.62,197.97 L223.35,198.39 L224.08,198.82 L224.82,199.25 L225.55,199.68 L226.29,200.10 L227.02,200.53 L227.75,200.96 L228.49,201.39 L229.22,201.82 L229.96,202.24 L230.69,202.67 L231.42,203.10 L232.16,203.53 L232.89,203.95 L233.63,204.38 L234.36,204.81 L235.10,205.23 L235.83,205.66 L236.56,206.09 L237.30,206.52 L238.03,206.94 L238.77,207.37 L239.50,207.80 L240.24,208.22 L240.97,208.65 L241.71,209.08 L242.44,209.50 L243.17,209.93 L243.91,210.36 L244.64,210.78 L245.38,211.21 L246.11,211.64 L246.85,212.06 L247.58,212.49 L248.32,212.92 L249.05,213.34 L249.79,213.77 L250.52,214.20 L251.26,214.62 L251.99,215.05 L252.73,215.48 L253.46,215.90 L254.20,216.33 L254.93,216.75 L255.67,217.18 L256.40,217.61 L257.14,218.03 L257.87,218.46 L258.61,218.88 L259.34,219.31 L260.08,219.74 L260.81,220.16 L261.55,220.59 L262.28,221.01 L263.02,221.44 L263.75,221.87 L264.49,222.29 L265.22,222.72 L265.96,223.14 L266.69,223.57 L267.43,223.99 L268.16,224.42 L268.90,224.84 L269.64,225.27 L270.37,225.69 L271.11,226.12 L271.84,226.54 L272.58,226.97 L273.31,227.40 L274.05,227.82 L274.78,228.25 L275.52,228.67 L276.25,229.10 L276.99,229.52 L277.73,229.95 L278.46,230.37 L279.20,230.80 L279.93,231.22 L280.67,231.65 L281.40,232.07 L282.14,232.49 L282.88,232.92 L283.61,233.34 L284.35,233.77 L285.08,234.19 L285.82,234.62 L286.56,235.04 L287.29,235.47 L288.03,235.89 L288.76,236.32 L289.50,236.74 L290.23,237.16 L290.97,237.59 L291.71,238.01 L292.44,238.44 L293.18,238.86 L293.91,239.29 L294.65,239.71 L295.39,240.13 L296.12,240.56 L296.86,240.98 L297.60,241.41 L298.33,241.83 L299.07,242.25 L299.80,242.68 L300.54,243.10 L301.28,243.53 L302.01,243.95 L302.75,244.37 L303.48,244.80 L304.22,245.22 L304.96,245.64 L305.69,246.07 L306.43,246.49 L307.17,246.91 L307.90,247.34 L308.64,247.76 L309.38,248.19 L310.11,248.61 L310.85,249.03 L311.58,249.46 L312.32,249.88 L313.06,250.30 L313.79,250.73 L314.53,251.15 L315.27,251.57 L316.00,252.00 L316.74,252.42 L317.48,252.84 L318.21,253.26 L318.95,253.69 L319.69,254.11 L320.42,254.53 L321.16,254.96 L321.90,255.38 L322.63,255.80 L323.37,256.23 L324.11,256.65 L324.84,257.07 L325.58,257.49 L326.32,257.92 L327.05,258.34 L327.79,258.76 L328.53,259.18 L329.26,259.61 L330.00,260.03 L330.74,260.45 L331.47,260.87 L332.21,261.30 L332.95,261.72 L333.69,262.14 L334.42,262.56 L335.16,262.99 L335.90,263.41 L336.63,263.83 L337.37,264.25 L338.11,264.68 L338.84,265.10 L339.58,265.52 L340.32,265.94 L341.05,266.37 L341.79,266.79 L342.53,267.21 L343.27,267.63 L344.00,268.05 L344.74,268.48 L345.48,268.90 L346.21,269.32 L346.95,269.74 L347.69,270.16 L348.43,270.59 L349.16,271.01 L349.90,271.43 L350.64,271.85 L351.37,272.27 L352.11,272.69 L352.85,273.12 L353.59,273.54 L354.32,273.96 L355.06,274.38 L355.80,274.80 L356.53,275.22 L357.27,275.65 L358.01,276.07 L358.75,276.49 L359.48,276.91 L360.22,277.33 L360.96,277.75 L361.70,278.18 L362.43,278.60 L363.17,279.02 L363.91,279.44 L364.64,279.86 L365.38,280.28 L366.12,280.70 L366.86,281.13 L367.59,281.55 L368.33,281.97 L369.07,282.39 L369.81,282.81 L370.54,283.23 L371.28,283.65 L372.02,284.08 L372.75,284.50 L373.49,284.92 L374.23,285.34 L374.97,285.76 L375.70,286.18 L376.44,286.61 L377.18,287.03 L377.91,287.45 L378.65,287.87 L379.39,288.29 L380.12,288.72 L380.86,289.14 L381.60,289.56 L382.33,289.98 L383.07,290.40 L383.81,290.83 L384.54,291.25 L385.28,291.67 L386.02,292.10 L386.75,292.52 L387.49,292.94 L388.22,293.36 L388.96,293.79 L389.70,294.21 L390.43,294.63 L391.17,295.06 L391.90,295.48 L392.64,295.91 L393.38,296.33 L394.11,296.75 L394.85,297.18 L395.58,297.60 L396.32,298.03 L397.05,298.45 L397.79,298.88 L398.52,299.30 L399.26,299.73 L399.99,300.15 L400.73,300.58 L401.46,301.00 L402.19,301.43 L402.93,301.86 L403.66,302.28 L404.40,302.71 L405.13,303.14 L405.86,303.56 L406.60,303.99 L407.33,304.42 L408.06,304.85 L408.80,305.27 L409.53,305.70 L410.26,306.13 L411.00,306.56 L411.73,306.99 L412.46,307.42 L413.19,307.84 L413.93,308.27 L414.66,308.70 L415.39,309.13 L416.12,309.56 L416.85,309.99 L417.59,310.42 L418.32,310.86 L419.05,311.29 L419.78,311.72 L420.51,312.15 L421.24,312.58 L421.97,313.01 L422.70,313.45 L423.43,313.88 L424.16,314.31 L424.89,314.75 L425.62,315.18 L426.35,315.61 L427.08,316.05 L427.81,316.48 L428.54,316.92 L429.26,317.35 L429.99,317.79 L430.72,318.22 L431.45,318.66 L432.18,319.10 L432.90,319.53 L433.63,319.97 L434.36,320.41 L435.09,320.85 L435.81,321.29 L436.54,321.72 L437.27,322.16 L437.99,322.60 L438.72,323.04 L439.44,323.48 L440.17,323.92 L440.89,324.36 L441.62,324.81 L442.34,325.25 L443.07,325.69 L443.79,326.13 L444.52,326.57 L445.24,327.02 L445.96,327.46 L446.69,327.91 L447.41,328.35 L448.13,328.79 L448.86,329.24 L449.58,329.69 L450.30,330.13 L451.02,330.58 L451.74,331.03 L452.46,331.47 L453.18,331.92 L453.91,332.37 L454.63,332.82 L455.35,333.27 L456.07,333.72 L456.79,334.17 L457.50,334.62 L458.22,335.07 L458.94,335.52 L459.66,335.97 L460.38,336.43 L461.10,336.88 L461.81,337.33 L462.53,337.79 L463.25,338.24 L463.97,338.69 L464.68,339.15 L465.40,339.61 L466.11,340.06 L466.83,340.52 L467.54,340.98 L468.26,341.44 L468.97,341.89 L469.69,342.35 L470.40,342.81 L471.12,343.27 L471.83,343.73 L472.54,344.19 L473.25,344.66 L473.97,345.12 L474.68,345.58 L475.39,346.04 L476.10,346.51 L476.81,346.97 L477.52,347.44 L478.23,347.90 L478.94,348.37 L479.65,348.84 L480.36,349.30 L481.07,349.77 L481.78,350.24 L482.49,350.71 L483.19,351.18 L483.90,351.65 L484.61,352.12 L485.32,352.59 L486.02,353.06 L486.73,353.54 L487.43,354.01 L488.14,354.48 L488.84,354.96 L489.55,355.43 L490.25,355.91 L490.96,356.39 L491.66,356.86 L492.36,357.34 L493.06,357.82 L493.77,358.30 L494.47,358.78 L495.17,359.26 L495.87,359.74 L496.57,360.22 L497.27,360.70 L497.97,361.19 L498.67,361.67 L499.37,362.16 L500.07,362.64 L500.77,363.13 L501.46,363.61 L502.16,364.10 L502.86,364.59 L503.55,365.08 L504.25,365.57 L504.94,366.06 L505.64,366.55 L506.33,367.04 L507.03,367.53 L507.72,368.03 L508.41,368.52 L509.11,369.01 L509.80,369.51 L510.49,370.01 L511.18,370.50 L511.87,371.00 L512.56,371.50 L513.24,372.00 L513.93,372.50 L514.62,373.01 L515.30,373.51 L515.99,374.01 L516.67,374.52 L517.36,375.02 L518.04,375.53 L518.72,376.04 L519.41,376.55 L520.09,377.06 L520.77,377.57 L521.45,378.08 L522.12,378.59 L522.80,379.11 L523.48,379.62 L524.15,380.14 L524.83,380.66 L525.50,381.18 L526.17,381.70 L526.85,382.22 L527.52,382.74 L528.19,383.26 L528.86,383.79 L529.52,384.31 L530.19,384.84 L530.86,385.37 L531.52,385.90 L532.19,386.43 L532.85,386.96 L533.51,387.49 L534.17,388.03 L534.83,388.56 L535.49,389.10 L536.15,389.64 L536.80,390.18 L537.46,390.72 L538.11,391.26 L538.76,391.81 L539.42,392.35 L540.07,392.90 L540.71,393.44 L541.36,393.99 L542.01,394.54 L542.65,395.10 L543.30,395.65 L543.94,396.21 L544.58,396.76 L545.22,397.32 L545.86,397.88 L546.49,398.44 L547.13,399.01 L547.76,399.57 L548.39,400.14 L549.02,400.71 L549.64,401.28 L550.27,401.85 L550.89,402.43 L551.51,403.00 L552.13,403.58 L552.75,404.16 L553.36,404.74 L553.98,405.33 L554.59,405.91 L555.19,406.50 L555.80,407.09 L556.40,407.69 L557.00,408.28 L557.60,408.88 L558.20,409.48 L558.79,410.08 L559.38,410.68 L559.97,411.29 L560.55,411.90 L561.14,412.51 L561.72,413.12 L562.29,413.74 L562.87,414.36 L563.44,414.98 L564.00,415.60 L564.57,416.23 L565.13,416.86 L565.69,417.49 L566.24,418.12 L566.79,418.76 L567.34,419.40 L567.89,420.04 L568.43,420.69 L568.97,421.34 L569.50,421.99 L570.03,422.64 L570.56,423.30 L571.09,423.96 L571.61,424.62 L572.12,425.29 L572.64,425.96 L573.15,426.63 L573.65,427.31 L574.16,427.98 L574.65,428.66 L575.15,429.35 L575.64,430.03 L576.13,430.72 L576.61,431.41 L577.09,432.11 L577.57,432.80 L578.04,433.50 L578.51,434.20 L578.97,434.91 L579.44,435.62 L579.89,436.33 L580.35,437.04 L580.80,437.76 L581.24,438.47 L581.69,439.19 L582.13,439.92 L582.56,440.64 L582.99,441.37 L583.42,442.10 L583.84,442.83 L584.26,443.57 L584.68,444.31 L585.09,445.04 L585.50,445.79 L585.90,446.53 L586.30,447.28 L586.70,448.03 L587.09,448.78 L587.48,449.53 L587.86,450.29 L588.24,451.05 L588.62,451.81 L588.99,452.57 L589.36,453.34 L589.72,454.10 L590.08,454.87 L590.44,455.64 L590.79,456.42 L591.14,457.19 L591.48,457.97 L591.82,458.75 L592.16,459.53 L592.49,460.32 L592.82,461.10 L593.14,461.89 L593.46,462.68 L593.78,463.47 L594.09,464.26 L594.40,465.06 L594.70,465.86 L595.00,466.65 L595.29,467.46 L595.59,468.26 L595.87,469.06 L596.16,469.87 L596.43,470.68 L596.71,471.49 L596.98,472.30 L597.24,473.11 L597.51,473.93 L597.76,474.74 L598.02,475.56 L598.26,476.38 L598.51,477.20 L598.75,478.02 L598.99,478.85 L599.22,479.68 L599.44,480.50 L599.67,481.33 L599.89,482.16 L600.10,482.99 L600.31,483.83 L600.52,484.66 L600.72,485.50 L600.92,486.34 L601.11,487.18 L601.30,488.02 L601.48,488.86 L601.66,489.70 L601.84,490.55 L602.45,493.40" stroke="#77AC30" stroke-linejoin="round"/>
</g>
<g font-family="Liberation Sans, sans-serif" fill="#262626">
<text x="61.40" y="515" font-size="18.6" text-anchor="middle">0</text>
<text x="183.24" y="515" font-size="18.6" text-anchor="middle">50</text>
<text x="305.08" y="515" font-size="18.6" text-anchor="middle">100</text>
<text x="426.92" y="515" font-size="18.6" text-anchor="middle">150</text>
<text x="548.76" y="515" font-size="18.6" text-anchor="middle">200</text>
<text x="670.60" y="515" font-size="18.6" text-anchor="middle">250</text>
<text x="54" y="19.90" font-size="18.6" text-anchor="end">10<tspan font-size="14.2" dy="-9.5">0</tspan></text>
<text x="54" y="88.44" font-size="18.6" text-anchor="end">10<tspan font-size="14.2" dy="-9.5">-1</tspan></text>
<text x="54" y="156.99" font-size="18.6" text-anchor="end">10<tspan font-size="14.2" dy="-9.5">-2</tspan></text>
<text x="54" y="225.53" font-size="18.6" text-anchor="end">10<tspan font-size="14.2" dy="-9.5">-3</tspan></text>
<text x="54" y="294.07" font-size="18.6" text-anchor="end">10<tspan font-size="14.2" dy="-9.5">-4</tspan></text>
<text x="54" y="362.61" font-size="18.6" text-anchor="end">10<tspan font-size="14.2" dy="-9.5">-5</tspan></text>
<text x="54" y="431.16" font-size="18.6" text-anchor="end">10<tspan font-size="14.2" dy="-9.5">-6</tspan></text>
<text x="54" y="499.70" font-size="18.6" text-anchor="end">10<tspan font-size="14.2" dy="-9.5">-7</tspan></text>
</g>
<g font-family="Liberation Serif, serif" fill="#262626">
<text x="306.8" y="534" font-size="22.6" textLength="127.6" lengthAdjust="spacingAndGlyphs">Distance (km)</text>
<text transform="translate(16,366.1) rotate(-90)" x="0" y="0" font-size="22.6" textLength="247.5" lengthAdjust="spacingAndGlyphs">Secret-key rate (bits/signal)</text>
</g>
<rect x="493.5" y="25.3" width="162.7" height="108.9" fill="#fff" stroke="#262626" stroke-width="1"/>
<line x1="498.8" x2="555.8" y1="38.10" y2="38.10" stroke="#0072BD" stroke-width="4"/>
<text x="560.5" y="42.30" font-family="Liberation Serif, serif" font-size="16.6" fill="#000" textLength="80.4" lengthAdjust="spacingAndGlyphs">Att=30 dB</text>
<line x1="498.8" x2="555.8" y1="59.10" y2="59.10" stroke="#D95319" stroke-width="4"/>
<text x="560.5" y="63.30" font-family="Liberation Serif, serif" font-size="16.6" fill="#000" textLength="80.4" lengthAdjust="spacingAndGlyphs">Att=50 dB</text>
<line x1="498.8" x2="555.8" y1="80.10" y2="80.10" stroke="#EDB120" stroke-width="4"/>
<text x="560.5" y="84.30" font-family="Liberation Serif, serif" font-size="16.6" fill="#000" textLength="80.4" lengthAdjust="spacingAndGlyphs">Att=70 dB</text>
<line x1="498.8" x2="555.8" y1="101.10" y2="101.10" stroke="#7E2F8E" stroke-width="4"/>
<text x="560.5" y="105.30" font-family="Liberation Serif, serif" font-size="16.6" fill="#000" textLength="80.4" lengthAdjust="spacingAndGlyphs">Att=90 dB</text>
<line x1="498.8" x2="555.8" y1="122.10" y2="122.10" stroke="#77AC30" stroke-width="4"/>
<text x="560.5" y="126.30" font-family="Liberation Serif, serif" font-size="16.6" fill="#000" textLength="88.7" lengthAdjust="spacingAndGlyphs">Att=120 dB</text>
</svg></body></html>
